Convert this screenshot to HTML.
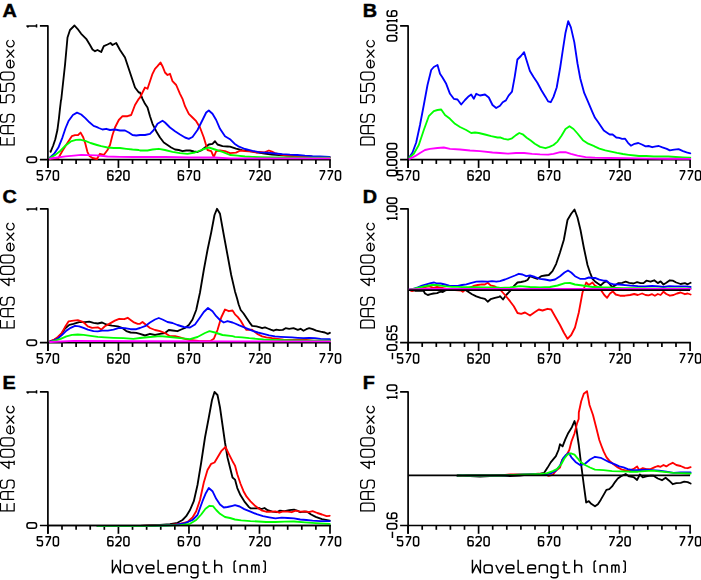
<!DOCTYPE html>
<html><head><meta charset="utf-8"><style>
html,body{margin:0;padding:0;background:#fff;}
body{width:701px;height:580px;overflow:hidden;}
svg{display:block;}
.tl{font-family:"Liberation Sans", sans-serif;font-size:14.5px;fill:#000;}
.yl{font-family:"Liberation Sans", sans-serif;font-size:19.5px;fill:#000;}
.ys{font-family:"Liberation Sans", sans-serif;font-size:16.5px;fill:#000;}
.lt{font-family:"Liberation Sans", sans-serif;font-size:18px;font-weight:bold;fill:#000;stroke:#000;stroke-width:0.45px;}
.wl{font-family:"Liberation Sans", sans-serif;font-size:17.6px;fill:#000;}
</style></head><body>
<svg width="701" height="580" viewBox="0 0 701 580">
<polyline points="39.9,25.9 47.9,25.9 47.9,167.85" fill="none" stroke="#000" stroke-width="1.7" stroke-linejoin="round"/>
<line x1="39.9" y1="159.65" x2="330.8" y2="159.65" stroke="#000" stroke-width="1.7"/>
<line x1="47.90" y1="159.65" x2="47.90" y2="167.95000000000002" stroke="#000" stroke-width="1.7"/>
<line x1="62.00" y1="159.65" x2="62.00" y2="163.95000000000002" stroke="#000" stroke-width="1.7"/>
<line x1="76.11" y1="159.65" x2="76.11" y2="163.95000000000002" stroke="#000" stroke-width="1.7"/>
<line x1="90.22" y1="159.65" x2="90.22" y2="163.95000000000002" stroke="#000" stroke-width="1.7"/>
<line x1="104.32" y1="159.65" x2="104.32" y2="163.95000000000002" stroke="#000" stroke-width="1.7"/>
<line x1="118.43" y1="159.65" x2="118.43" y2="167.95000000000002" stroke="#000" stroke-width="1.7"/>
<line x1="132.53" y1="159.65" x2="132.53" y2="163.95000000000002" stroke="#000" stroke-width="1.7"/>
<line x1="146.64" y1="159.65" x2="146.64" y2="163.95000000000002" stroke="#000" stroke-width="1.7"/>
<line x1="160.74" y1="159.65" x2="160.74" y2="163.95000000000002" stroke="#000" stroke-width="1.7"/>
<line x1="174.84" y1="159.65" x2="174.84" y2="163.95000000000002" stroke="#000" stroke-width="1.7"/>
<line x1="188.95" y1="159.65" x2="188.95" y2="167.95000000000002" stroke="#000" stroke-width="1.7"/>
<line x1="203.06" y1="159.65" x2="203.06" y2="163.95000000000002" stroke="#000" stroke-width="1.7"/>
<line x1="217.16" y1="159.65" x2="217.16" y2="163.95000000000002" stroke="#000" stroke-width="1.7"/>
<line x1="231.27" y1="159.65" x2="231.27" y2="163.95000000000002" stroke="#000" stroke-width="1.7"/>
<line x1="245.37" y1="159.65" x2="245.37" y2="163.95000000000002" stroke="#000" stroke-width="1.7"/>
<line x1="259.47" y1="159.65" x2="259.47" y2="167.95000000000002" stroke="#000" stroke-width="1.7"/>
<line x1="273.58" y1="159.65" x2="273.58" y2="163.95000000000002" stroke="#000" stroke-width="1.7"/>
<line x1="287.69" y1="159.65" x2="287.69" y2="163.95000000000002" stroke="#000" stroke-width="1.7"/>
<line x1="301.79" y1="159.65" x2="301.79" y2="163.95000000000002" stroke="#000" stroke-width="1.7"/>
<line x1="315.89" y1="159.65" x2="315.89" y2="163.95000000000002" stroke="#000" stroke-width="1.7"/>
<line x1="330.00" y1="159.65" x2="330.00" y2="167.95000000000002" stroke="#000" stroke-width="1.7"/>
<g transform="translate(47.90,180.75)" fill="none" stroke="#000" stroke-width="1.5" stroke-linecap="butt" stroke-linejoin="round"><g transform="translate(-11.30,-9.95) scale(1.0000,1)"><path transform="translate(0.75,0)" d="M5.10,0 H0 V3.86 H3.30 Q5.10,3.86 5.10,5.66 V7.40 Q5.10,9.20 3.30,9.20 H1.80 Q0,9.20 0,7.58"/><path transform="translate(8.75,0)" d="M0,0 H5.10 V0.92 L1.12,9.20"/><path transform="translate(16.75,0)" d="M0,2.07 Q0,0 2.07,0 H3.03 Q5.10,0 5.10,2.07 V7.13 Q5.10,9.20 3.03,9.20 H2.07 Q0,9.20 0,7.13 Z"/></g></g>
<g transform="translate(118.43,180.75)" fill="none" stroke="#000" stroke-width="1.5" stroke-linecap="butt" stroke-linejoin="round"><g transform="translate(-11.30,-9.95) scale(1.0000,1)"><path transform="translate(0.75,0)" d="M5.10,1.62 Q5.10,0 3.30,0 H1.80 Q0,0 0,1.80 V7.40 Q0,9.20 1.80,9.20 H3.30 Q5.10,9.20 5.10,7.40 V5.94 Q5.10,4.14 3.30,4.14 H0"/><path transform="translate(8.75,0)" d="M0,1.62 Q0,0 1.80,0 H3.30 Q5.10,0 5.10,1.80 V3.86 L0,9.20 H5.10"/><path transform="translate(16.75,0)" d="M0,2.07 Q0,0 2.07,0 H3.03 Q5.10,0 5.10,2.07 V7.13 Q5.10,9.20 3.03,9.20 H2.07 Q0,9.20 0,7.13 Z"/></g></g>
<g transform="translate(188.95,180.75)" fill="none" stroke="#000" stroke-width="1.5" stroke-linecap="butt" stroke-linejoin="round"><g transform="translate(-11.30,-9.95) scale(1.0000,1)"><path transform="translate(0.75,0)" d="M5.10,1.62 Q5.10,0 3.30,0 H1.80 Q0,0 0,1.80 V7.40 Q0,9.20 1.80,9.20 H3.30 Q5.10,9.20 5.10,7.40 V5.94 Q5.10,4.14 3.30,4.14 H0"/><path transform="translate(8.75,0)" d="M0,0 H5.10 V0.92 L1.12,9.20"/><path transform="translate(16.75,0)" d="M0,2.07 Q0,0 2.07,0 H3.03 Q5.10,0 5.10,2.07 V7.13 Q5.10,9.20 3.03,9.20 H2.07 Q0,9.20 0,7.13 Z"/></g></g>
<g transform="translate(259.48,180.75)" fill="none" stroke="#000" stroke-width="1.5" stroke-linecap="butt" stroke-linejoin="round"><g transform="translate(-11.30,-9.95) scale(1.0000,1)"><path transform="translate(0.75,0)" d="M0,0 H5.10 V0.92 L1.12,9.20"/><path transform="translate(8.75,0)" d="M0,1.62 Q0,0 1.80,0 H3.30 Q5.10,0 5.10,1.80 V3.86 L0,9.20 H5.10"/><path transform="translate(16.75,0)" d="M0,2.07 Q0,0 2.07,0 H3.03 Q5.10,0 5.10,2.07 V7.13 Q5.10,9.20 3.03,9.20 H2.07 Q0,9.20 0,7.13 Z"/></g></g>
<g transform="translate(330.00,180.75)" fill="none" stroke="#000" stroke-width="1.5" stroke-linecap="butt" stroke-linejoin="round"><g transform="translate(-11.30,-9.95) scale(1.0000,1)"><path transform="translate(0.75,0)" d="M0,0 H5.10 V0.92 L1.12,9.20"/><path transform="translate(8.75,0)" d="M0,0 H5.10 V0.92 L1.12,9.20"/><path transform="translate(16.75,0)" d="M0,2.07 Q0,0 2.07,0 H3.03 Q5.10,0 5.10,2.07 V7.13 Q5.10,9.20 3.03,9.20 H2.07 Q0,9.20 0,7.13 Z"/></g></g>
<g transform="translate(37.30,25.90) rotate(-90)" fill="none" stroke="#000" stroke-width="1.5" stroke-linecap="butt" stroke-linejoin="round"><g transform="translate(-2.40,-10.35) scale(1.0000,1)"><path transform="translate(0.75,0)" d="M0.17,1.54 L1.65,0 V9.60 M0,9.60 H3.30"/></g></g>
<g transform="translate(37.30,159.65) rotate(-90)" fill="none" stroke="#000" stroke-width="1.5" stroke-linecap="butt" stroke-linejoin="round"><g transform="translate(-3.50,-10.35) scale(1.0000,1)"><path transform="translate(0.75,0)" d="M0,2.30 Q0,0 2.30,0 H3.20 Q5.50,0 5.50,2.30 V7.30 Q5.50,9.60 3.20,9.60 H2.30 Q0,9.60 0,7.30 Z"/></g></g>
<g transform="translate(14.80,145.57) rotate(-90)" fill="none" stroke="#000" stroke-width="1.25" stroke-linecap="butt" stroke-linejoin="round"><g transform="translate(0.00,-14.38) scale(1.0000,1)"><path transform="translate(0.62,0)" d="M7.85,0 H0 V13.75 H7.85 M0,6.60 H7.06"/><path transform="translate(12.02,0)" d="M0,13.75 V2.60 Q0,0 2.60,0 H5.25 Q7.85,0 7.85,2.60 V13.75 M0,7.56 H7.85"/><path transform="translate(23.43,0)" d="M7.85,2.34 Q7.85,0 5.25,0 H2.60 Q0,0 0,2.60 V4.00 Q0,6.60 2.60,6.60 H5.25 Q7.85,6.60 7.85,9.20 V11.15 Q7.85,13.75 5.25,13.75 H2.60 Q0,13.75 0,11.41"/><path transform="translate(42.92,0)" d="M7.85,0 H0 V5.77 H5.25 Q7.85,5.77 7.85,8.38 V11.15 Q7.85,13.75 5.25,13.75 H2.60 Q0,13.75 0,11.41"/><path transform="translate(54.32,0)" d="M7.85,0 H0 V5.77 H5.25 Q7.85,5.77 7.85,8.38 V11.15 Q7.85,13.75 5.25,13.75 H2.60 Q0,13.75 0,11.41"/><path transform="translate(65.72,0)" d="M0,2.99 Q0,0 2.99,0 H4.86 Q7.85,0 7.85,2.99 V10.76 Q7.85,13.75 4.86,13.75 H2.99 Q0,13.75 0,10.76 Z"/></g></g>
<g transform="translate(14.80,68.48) rotate(-90)" fill="none" stroke="#000" stroke-width="1.25" stroke-linecap="butt" stroke-linejoin="round"><g transform="translate(0.00,-8.18) scale(1.0000,1)"><path transform="translate(0.62,0)" d="M0,3.77 H7.80 A3.90,3.77 0 0 0 3.90,0 A3.90,3.77 0 0 0 0,3.77 A3.90,3.77 0 0 0 3.90,7.55 A3.90,3.77 0 0 0 7.41,5.44"/><path transform="translate(10.88,0)" d="M0,0 L7.80,7.55 M7.80,0 L0,7.55"/><path transform="translate(21.12,0)" d="M7.18,1.96 A3.59,3.77 0 1 0 7.18,5.59"/></g></g>
<text transform="translate(2.6000000000000014,16.7) scale(1.1,1)" class="lt">A</text>
<polyline points="50.5,151.2 50.6,151.8 53.2,145.5 55.3,139.3 57.4,130.0 58.9,118.6 59.9,109.3 61.0,100.0 61.2,100.0 65.0,65.0 67.5,37.5 70.0,30.0 74.5,25.5 77.5,28.8 81.2,33.8 86.2,38.8 90.0,45.0 92.5,49.5 95.0,51.2 97.5,50.0 101.2,52.0 103.8,46.2 107.5,44.5 110.5,43.0 112.5,45.0 116.2,43.0 120.0,50.0 125.0,57.5 130.0,72.5 135.0,87.5 138.8,92.5 140.0,92.5 142.5,98.8 145.0,103.8 147.5,107.5 150.0,116.2 152.5,123.8 156.2,131.2 160.0,137.5 163.8,142.5 167.5,145.0 171.2,147.5 175.0,149.5 178.8,150.0 182.5,151.2 186.2,150.5 190.0,150.5 193.8,151.5 197.5,152.0 201.2,150.5 205.0,147.5 208.8,144.5 212.5,143.8 215.0,141.2 217.5,144.5 222.5,146.2 227.5,146.5 230.0,146.7 236.0,148.7 242.0,150.2 249.5,151.2 257.0,152.3 264.5,153.5 271.9,154.7 279.4,155.0 286.9,155.7 294.4,156.0 301.9,156.5 312.4,156.8 329.6,157.2" fill="none" stroke="#000000" stroke-width="1.85" stroke-linejoin="round" stroke-linecap="round"/>
<polyline points="50.0,158.8 50.6,158.5 58.4,158.0 62.5,150.7 67.7,142.4 71.8,136.2 75.0,135.2 78.1,135.0 80.6,132.6 83.2,137.3 85.3,143.5 87.4,151.8 89.4,155.9 92.5,158.0 97.0,159.0 97.5,158.0 100.0,153.8 103.8,155.0 107.5,150.0 110.0,145.0 112.5,135.0 115.0,127.5 118.8,120.0 122.5,116.2 127.5,116.2 131.2,115.0 135.0,105.0 138.8,98.8 140.0,97.5 142.5,92.5 145.0,87.5 147.5,88.8 150.0,81.2 152.5,73.8 155.0,68.8 157.5,66.2 160.5,62.5 162.5,66.2 165.0,72.5 167.5,75.0 170.0,73.8 172.5,81.2 176.2,85.0 180.0,93.8 182.5,98.8 185.0,106.2 188.8,113.8 192.5,117.5 196.2,121.2 200.0,127.5 203.8,137.5 207.5,150.0 211.2,151.2 213.8,157.0 216.2,151.2 220.0,150.5 225.0,151.2 230.0,153.2 236.0,152.7 240.5,150.5 245.0,151.2 252.5,151.7 257.0,152.7 260.0,152.0 264.5,152.3 268.9,150.5 271.9,151.7 274.9,153.2 280.9,154.7 286.9,155.7 294.4,156.2 301.9,156.8 309.4,156.5 315.4,157.2 329.6,157.2" fill="none" stroke="#ff0000" stroke-width="1.85" stroke-linejoin="round" stroke-linecap="round"/>
<polyline points="50.0,157.5 50.6,156.9 54.2,153.8 58.4,147.6 62.5,137.3 65.6,128.0 68.7,120.7 72.9,115.0 77.0,112.6 81.2,114.5 85.3,118.1 89.4,122.3 93.6,125.9 97.0,127.1 98.8,128.0 102.5,129.5 106.2,128.8 110.0,130.0 115.0,129.5 120.0,130.5 125.0,130.5 128.8,132.5 132.5,135.0 136.2,135.5 140.0,135.0 145.0,135.0 150.0,133.8 153.8,130.0 157.5,123.8 162.5,120.8 165.0,122.5 170.0,127.5 175.0,131.2 180.0,134.5 185.0,137.5 188.8,138.8 192.5,137.0 197.5,130.0 202.5,120.0 206.2,112.5 208.8,110.5 212.5,113.8 216.2,120.0 220.0,128.8 225.0,136.2 230.0,139.2 234.5,143.7 239.0,146.7 245.0,149.0 252.5,150.8 260.0,152.3 267.4,152.7 274.9,153.5 282.4,154.2 289.9,154.7 297.4,155.0 304.9,155.7 312.4,156.2 319.9,156.5 329.6,156.8" fill="none" stroke="#0000ff" stroke-width="1.85" stroke-linejoin="round" stroke-linecap="round"/>
<polyline points="50.0,158.0 50.6,157.5 55.3,154.9 60.5,150.7 65.6,145.5 70.8,141.4 76.0,139.9 80.1,139.6 85.3,140.9 90.5,143.0 97.0,145.0 101.2,146.2 107.5,147.5 113.8,148.0 120.0,148.0 126.2,148.8 132.5,149.5 138.8,150.0 140.0,150.5 147.5,150.5 152.5,149.5 158.8,148.8 165.0,150.0 172.5,151.8 180.0,153.2 187.5,153.8 195.0,152.5 202.5,149.5 208.8,147.5 215.0,149.5 222.5,151.8 230.0,155.0 237.5,155.7 245.0,156.5 252.5,156.9 260.0,157.2 274.9,157.5 289.9,157.5 304.9,157.7 329.6,157.7" fill="none" stroke="#00ff00" stroke-width="1.85" stroke-linejoin="round" stroke-linecap="round"/>
<polyline points="50.0,158.8 50.6,158.5 57.4,157.5 65.6,156.4 73.9,155.6 81.2,154.9 88.4,155.1 97.0,155.4 107.5,156.5 120.0,156.8 132.5,157.0 140.0,157.0 152.5,156.8 165.0,157.0 190.0,157.5 215.0,157.5 230.0,158.3 329.6,158.3" fill="none" stroke="#ff00ff" stroke-width="1.85" stroke-linejoin="round" stroke-linecap="round"/>
<polyline points="400.1,25.9 408.1,25.9 408.1,167.85" fill="none" stroke="#000" stroke-width="1.7" stroke-linejoin="round"/>
<line x1="400.1" y1="159.65" x2="690.9" y2="159.65" stroke="#000" stroke-width="1.7"/>
<line x1="408.10" y1="159.65" x2="408.10" y2="167.95000000000002" stroke="#000" stroke-width="1.7"/>
<line x1="422.20" y1="159.65" x2="422.20" y2="163.95000000000002" stroke="#000" stroke-width="1.7"/>
<line x1="436.30" y1="159.65" x2="436.30" y2="163.95000000000002" stroke="#000" stroke-width="1.7"/>
<line x1="450.40" y1="159.65" x2="450.40" y2="163.95000000000002" stroke="#000" stroke-width="1.7"/>
<line x1="464.50" y1="159.65" x2="464.50" y2="163.95000000000002" stroke="#000" stroke-width="1.7"/>
<line x1="478.60" y1="159.65" x2="478.60" y2="167.95000000000002" stroke="#000" stroke-width="1.7"/>
<line x1="492.70" y1="159.65" x2="492.70" y2="163.95000000000002" stroke="#000" stroke-width="1.7"/>
<line x1="506.80" y1="159.65" x2="506.80" y2="163.95000000000002" stroke="#000" stroke-width="1.7"/>
<line x1="520.90" y1="159.65" x2="520.90" y2="163.95000000000002" stroke="#000" stroke-width="1.7"/>
<line x1="535.00" y1="159.65" x2="535.00" y2="163.95000000000002" stroke="#000" stroke-width="1.7"/>
<line x1="549.10" y1="159.65" x2="549.10" y2="167.95000000000002" stroke="#000" stroke-width="1.7"/>
<line x1="563.20" y1="159.65" x2="563.20" y2="163.95000000000002" stroke="#000" stroke-width="1.7"/>
<line x1="577.30" y1="159.65" x2="577.30" y2="163.95000000000002" stroke="#000" stroke-width="1.7"/>
<line x1="591.40" y1="159.65" x2="591.40" y2="163.95000000000002" stroke="#000" stroke-width="1.7"/>
<line x1="605.50" y1="159.65" x2="605.50" y2="163.95000000000002" stroke="#000" stroke-width="1.7"/>
<line x1="619.60" y1="159.65" x2="619.60" y2="167.95000000000002" stroke="#000" stroke-width="1.7"/>
<line x1="633.70" y1="159.65" x2="633.70" y2="163.95000000000002" stroke="#000" stroke-width="1.7"/>
<line x1="647.80" y1="159.65" x2="647.80" y2="163.95000000000002" stroke="#000" stroke-width="1.7"/>
<line x1="661.90" y1="159.65" x2="661.90" y2="163.95000000000002" stroke="#000" stroke-width="1.7"/>
<line x1="676.00" y1="159.65" x2="676.00" y2="163.95000000000002" stroke="#000" stroke-width="1.7"/>
<line x1="690.10" y1="159.65" x2="690.10" y2="167.95000000000002" stroke="#000" stroke-width="1.7"/>
<g transform="translate(408.10,180.75)" fill="none" stroke="#000" stroke-width="1.5" stroke-linecap="butt" stroke-linejoin="round"><g transform="translate(-11.30,-9.95) scale(1.0000,1)"><path transform="translate(0.75,0)" d="M5.10,0 H0 V3.86 H3.30 Q5.10,3.86 5.10,5.66 V7.40 Q5.10,9.20 3.30,9.20 H1.80 Q0,9.20 0,7.58"/><path transform="translate(8.75,0)" d="M0,0 H5.10 V0.92 L1.12,9.20"/><path transform="translate(16.75,0)" d="M0,2.07 Q0,0 2.07,0 H3.03 Q5.10,0 5.10,2.07 V7.13 Q5.10,9.20 3.03,9.20 H2.07 Q0,9.20 0,7.13 Z"/></g></g>
<g transform="translate(478.60,180.75)" fill="none" stroke="#000" stroke-width="1.5" stroke-linecap="butt" stroke-linejoin="round"><g transform="translate(-11.30,-9.95) scale(1.0000,1)"><path transform="translate(0.75,0)" d="M5.10,1.62 Q5.10,0 3.30,0 H1.80 Q0,0 0,1.80 V7.40 Q0,9.20 1.80,9.20 H3.30 Q5.10,9.20 5.10,7.40 V5.94 Q5.10,4.14 3.30,4.14 H0"/><path transform="translate(8.75,0)" d="M0,1.62 Q0,0 1.80,0 H3.30 Q5.10,0 5.10,1.80 V3.86 L0,9.20 H5.10"/><path transform="translate(16.75,0)" d="M0,2.07 Q0,0 2.07,0 H3.03 Q5.10,0 5.10,2.07 V7.13 Q5.10,9.20 3.03,9.20 H2.07 Q0,9.20 0,7.13 Z"/></g></g>
<g transform="translate(549.10,180.75)" fill="none" stroke="#000" stroke-width="1.5" stroke-linecap="butt" stroke-linejoin="round"><g transform="translate(-11.30,-9.95) scale(1.0000,1)"><path transform="translate(0.75,0)" d="M5.10,1.62 Q5.10,0 3.30,0 H1.80 Q0,0 0,1.80 V7.40 Q0,9.20 1.80,9.20 H3.30 Q5.10,9.20 5.10,7.40 V5.94 Q5.10,4.14 3.30,4.14 H0"/><path transform="translate(8.75,0)" d="M0,0 H5.10 V0.92 L1.12,9.20"/><path transform="translate(16.75,0)" d="M0,2.07 Q0,0 2.07,0 H3.03 Q5.10,0 5.10,2.07 V7.13 Q5.10,9.20 3.03,9.20 H2.07 Q0,9.20 0,7.13 Z"/></g></g>
<g transform="translate(619.60,180.75)" fill="none" stroke="#000" stroke-width="1.5" stroke-linecap="butt" stroke-linejoin="round"><g transform="translate(-11.30,-9.95) scale(1.0000,1)"><path transform="translate(0.75,0)" d="M0,0 H5.10 V0.92 L1.12,9.20"/><path transform="translate(8.75,0)" d="M0,1.62 Q0,0 1.80,0 H3.30 Q5.10,0 5.10,1.80 V3.86 L0,9.20 H5.10"/><path transform="translate(16.75,0)" d="M0,2.07 Q0,0 2.07,0 H3.03 Q5.10,0 5.10,2.07 V7.13 Q5.10,9.20 3.03,9.20 H2.07 Q0,9.20 0,7.13 Z"/></g></g>
<g transform="translate(690.10,180.75)" fill="none" stroke="#000" stroke-width="1.5" stroke-linecap="butt" stroke-linejoin="round"><g transform="translate(-11.30,-9.95) scale(1.0000,1)"><path transform="translate(0.75,0)" d="M0,0 H5.10 V0.92 L1.12,9.20"/><path transform="translate(8.75,0)" d="M0,0 H5.10 V0.92 L1.12,9.20"/><path transform="translate(16.75,0)" d="M0,2.07 Q0,0 2.07,0 H3.03 Q5.10,0 5.10,2.07 V7.13 Q5.10,9.20 3.03,9.20 H2.07 Q0,9.20 0,7.13 Z"/></g></g>
<g transform="translate(397.50,25.90) rotate(-90)" fill="none" stroke="#000" stroke-width="1.5" stroke-linecap="butt" stroke-linejoin="round"><g transform="translate(-15.85,-10.35) scale(1.0000,1)"><path transform="translate(0.75,0)" d="M0,2.30 Q0,0 2.30,0 H3.20 Q5.50,0 5.50,2.30 V7.30 Q5.50,9.60 3.20,9.60 H2.30 Q0,9.60 0,7.30 Z"/><rect x="7.70" y="8.25" width="2.10" height="2.10" fill="#000" stroke="none"/><path transform="translate(11.25,0)" d="M0,2.30 Q0,0 2.30,0 H3.20 Q5.50,0 5.50,2.30 V7.30 Q5.50,9.60 3.20,9.60 H2.30 Q0,9.60 0,7.30 Z"/><path transform="translate(19.45,0)" d="M0.17,1.54 L1.65,0 V9.60 M0,9.60 H3.30"/><path transform="translate(25.45,0)" d="M5.50,1.80 Q5.50,0 3.50,0 H2.00 Q0,0 0,2.00 V7.60 Q0,9.60 2.00,9.60 H3.50 Q5.50,9.60 5.50,7.60 V6.32 Q5.50,4.32 3.50,4.32 H0"/></g></g>
<g transform="translate(397.50,159.65) rotate(-90)" fill="none" stroke="#000" stroke-width="1.5" stroke-linecap="butt" stroke-linejoin="round"><g transform="translate(-16.95,-10.35) scale(1.0000,1)"><path transform="translate(0.75,0)" d="M0,2.30 Q0,0 2.30,0 H3.20 Q5.50,0 5.50,2.30 V7.30 Q5.50,9.60 3.20,9.60 H2.30 Q0,9.60 0,7.30 Z"/><rect x="7.70" y="8.25" width="2.10" height="2.10" fill="#000" stroke="none"/><path transform="translate(11.25,0)" d="M0,2.30 Q0,0 2.30,0 H3.20 Q5.50,0 5.50,2.30 V7.30 Q5.50,9.60 3.20,9.60 H2.30 Q0,9.60 0,7.30 Z"/><path transform="translate(19.45,0)" d="M0,2.30 Q0,0 2.30,0 H3.20 Q5.50,0 5.50,2.30 V7.30 Q5.50,9.60 3.20,9.60 H2.30 Q0,9.60 0,7.30 Z"/><path transform="translate(27.65,0)" d="M0,2.30 Q0,0 2.30,0 H3.20 Q5.50,0 5.50,2.30 V7.30 Q5.50,9.60 3.20,9.60 H2.30 Q0,9.60 0,7.30 Z"/></g></g>
<g transform="translate(375.00,145.57) rotate(-90)" fill="none" stroke="#000" stroke-width="1.25" stroke-linecap="butt" stroke-linejoin="round"><g transform="translate(0.00,-14.38) scale(1.0000,1)"><path transform="translate(0.62,0)" d="M0,0 H5.25 Q7.85,0 7.85,2.60 V11.15 Q7.85,13.75 5.25,13.75 H0 Z"/><path transform="translate(12.02,0)" d="M0,13.75 V2.60 Q0,0 2.60,0 H5.25 Q7.85,0 7.85,2.60 V13.75 M0,7.56 H7.85"/><path transform="translate(23.43,0)" d="M7.85,2.34 Q7.85,0 5.25,0 H2.60 Q0,0 0,2.60 V4.00 Q0,6.60 2.60,6.60 H5.25 Q7.85,6.60 7.85,9.20 V11.15 Q7.85,13.75 5.25,13.75 H2.60 Q0,13.75 0,11.41"/><path transform="translate(42.92,0)" d="M7.85,0 H0 V5.77 H5.25 Q7.85,5.77 7.85,8.38 V11.15 Q7.85,13.75 5.25,13.75 H2.60 Q0,13.75 0,11.41"/><path transform="translate(54.32,0)" d="M7.85,0 H0 V5.77 H5.25 Q7.85,5.77 7.85,8.38 V11.15 Q7.85,13.75 5.25,13.75 H2.60 Q0,13.75 0,11.41"/><path transform="translate(65.72,0)" d="M0,2.99 Q0,0 2.99,0 H4.86 Q7.85,0 7.85,2.99 V10.76 Q7.85,13.75 4.86,13.75 H2.99 Q0,13.75 0,10.76 Z"/></g></g>
<g transform="translate(375.00,68.48) rotate(-90)" fill="none" stroke="#000" stroke-width="1.25" stroke-linecap="butt" stroke-linejoin="round"><g transform="translate(0.00,-8.18) scale(1.0000,1)"><path transform="translate(0.62,0)" d="M0,3.77 H7.80 A3.90,3.77 0 0 0 3.90,0 A3.90,3.77 0 0 0 0,3.77 A3.90,3.77 0 0 0 3.90,7.55 A3.90,3.77 0 0 0 7.41,5.44"/><path transform="translate(10.88,0)" d="M0,0 L7.80,7.55 M7.80,0 L0,7.55"/><path transform="translate(21.12,0)" d="M7.18,1.96 A3.59,3.77 0 1 0 7.18,5.59"/></g></g>
<text transform="translate(362.8,16.7) scale(1.1,1)" class="lt">B</text>
<polyline points="409.5,157.0 412.5,152.5 416.2,142.5 420.0,125.0 423.8,105.0 427.5,85.0 431.2,70.0 433.8,67.0 437.5,65.0 440.0,73.8 442.5,77.5 446.2,83.8 450.0,93.8 453.8,98.8 457.5,99.5 461.2,104.5 465.0,100.0 468.8,96.2 471.2,94.5 473.8,98.8 476.2,93.8 480.0,95.5 485.0,94.5 488.8,97.5 492.5,105.0 496.2,108.0 500.0,105.7 502.7,102.2 505.9,100.4 508.6,95.6 512.0,91.6 514.7,76.8 517.4,59.5 520.9,56.0 524.1,52.2 526.7,60.8 529.9,71.0 533.4,76.8 537.4,82.7 541.4,90.2 545.5,96.9 548.1,101.4 550.8,102.2 553.5,96.9 556.7,87.5 560.2,67.5 562.8,50.1 565.5,32.7 568.2,21.2 570.9,27.4 574.3,42.1 577.5,63.5 580.2,78.2 584.2,92.9 588.2,102.2 592.2,111.6 595.0,117.8 597.9,121.8 600.9,126.2 603.8,130.6 606.7,132.5 609.7,134.5 612.6,134.5 616.3,137.5 619.2,137.9 622.1,138.9 625.1,138.7 628.0,142.8 630.9,145.7 634.6,143.8 638.3,143.0 641.9,144.5 645.6,146.3 648.5,146.0 652.2,147.2 655.9,146.3 658.8,146.0 662.4,147.4 666.8,148.9 669.8,150.4 674.2,149.6 678.6,149.2 683.0,151.1 686.6,152.3 690.3,153.3" fill="none" stroke="#0000ff" stroke-width="1.85" stroke-linejoin="round" stroke-linecap="round"/>
<polyline points="409.5,157.5 413.8,153.8 418.8,145.0 423.8,130.0 428.8,116.2 433.8,111.2 437.5,110.0 441.2,109.5 445.0,115.0 450.0,118.8 455.0,123.8 460.0,127.0 466.2,130.0 471.2,133.0 475.0,132.5 478.8,133.0 485.0,134.5 491.2,136.2 497.5,137.5 500.0,137.3 504.0,138.9 508.0,139.7 512.0,138.3 516.0,135.1 519.3,133.0 522.7,134.3 526.7,137.8 530.7,140.5 534.8,143.7 540.1,146.9 545.5,148.2 549.5,146.9 553.5,145.0 557.5,141.6 561.5,135.7 565.5,129.0 569.5,126.3 573.5,129.0 577.5,133.5 582.9,140.2 588.2,143.7 593.6,145.8 595.0,146.7 599.4,148.6 605.3,150.4 611.1,151.6 617.0,152.9 622.9,154.0 628.7,154.8 634.6,155.5 639.0,156.0 646.3,156.0 653.7,156.5 661.0,156.5 668.3,156.5 675.6,157.0 683.0,157.4 690.3,157.7" fill="none" stroke="#00ff00" stroke-width="1.85" stroke-linejoin="round" stroke-linecap="round"/>
<polyline points="409.5,158.8 415.0,156.2 420.0,153.0 425.0,150.0 430.0,148.8 437.5,148.0 443.8,147.5 450.0,148.8 460.0,149.5 470.0,150.5 480.0,151.2 492.5,152.5 500.0,153.0 508.0,153.6 516.0,153.0 524.1,153.0 532.1,153.9 540.1,154.4 548.1,154.7 553.5,153.9 560.2,152.2 565.5,152.2 570.9,153.9 577.5,155.7 585.6,157.1 593.6,157.6 595.0,157.7 602.3,157.9 609.7,158.0 624.3,158.2 639.0,158.4 653.7,158.7 668.3,158.7 690.3,158.9" fill="none" stroke="#ff00ff" stroke-width="1.85" stroke-linejoin="round" stroke-linecap="round"/>
<polyline points="39.9,208.9 47.9,208.9 47.9,350.84999999999997" fill="none" stroke="#000" stroke-width="1.7" stroke-linejoin="round"/>
<line x1="39.9" y1="342.65" x2="330.8" y2="342.65" stroke="#000" stroke-width="1.7"/>
<line x1="47.90" y1="342.65" x2="47.90" y2="350.95" stroke="#000" stroke-width="1.7"/>
<line x1="62.00" y1="342.65" x2="62.00" y2="346.95" stroke="#000" stroke-width="1.7"/>
<line x1="76.11" y1="342.65" x2="76.11" y2="346.95" stroke="#000" stroke-width="1.7"/>
<line x1="90.22" y1="342.65" x2="90.22" y2="346.95" stroke="#000" stroke-width="1.7"/>
<line x1="104.32" y1="342.65" x2="104.32" y2="346.95" stroke="#000" stroke-width="1.7"/>
<line x1="118.43" y1="342.65" x2="118.43" y2="350.95" stroke="#000" stroke-width="1.7"/>
<line x1="132.53" y1="342.65" x2="132.53" y2="346.95" stroke="#000" stroke-width="1.7"/>
<line x1="146.64" y1="342.65" x2="146.64" y2="346.95" stroke="#000" stroke-width="1.7"/>
<line x1="160.74" y1="342.65" x2="160.74" y2="346.95" stroke="#000" stroke-width="1.7"/>
<line x1="174.84" y1="342.65" x2="174.84" y2="346.95" stroke="#000" stroke-width="1.7"/>
<line x1="188.95" y1="342.65" x2="188.95" y2="350.95" stroke="#000" stroke-width="1.7"/>
<line x1="203.06" y1="342.65" x2="203.06" y2="346.95" stroke="#000" stroke-width="1.7"/>
<line x1="217.16" y1="342.65" x2="217.16" y2="346.95" stroke="#000" stroke-width="1.7"/>
<line x1="231.27" y1="342.65" x2="231.27" y2="346.95" stroke="#000" stroke-width="1.7"/>
<line x1="245.37" y1="342.65" x2="245.37" y2="346.95" stroke="#000" stroke-width="1.7"/>
<line x1="259.47" y1="342.65" x2="259.47" y2="350.95" stroke="#000" stroke-width="1.7"/>
<line x1="273.58" y1="342.65" x2="273.58" y2="346.95" stroke="#000" stroke-width="1.7"/>
<line x1="287.69" y1="342.65" x2="287.69" y2="346.95" stroke="#000" stroke-width="1.7"/>
<line x1="301.79" y1="342.65" x2="301.79" y2="346.95" stroke="#000" stroke-width="1.7"/>
<line x1="315.89" y1="342.65" x2="315.89" y2="346.95" stroke="#000" stroke-width="1.7"/>
<line x1="330.00" y1="342.65" x2="330.00" y2="350.95" stroke="#000" stroke-width="1.7"/>
<g transform="translate(47.90,363.75)" fill="none" stroke="#000" stroke-width="1.5" stroke-linecap="butt" stroke-linejoin="round"><g transform="translate(-11.30,-9.95) scale(1.0000,1)"><path transform="translate(0.75,0)" d="M5.10,0 H0 V3.86 H3.30 Q5.10,3.86 5.10,5.66 V7.40 Q5.10,9.20 3.30,9.20 H1.80 Q0,9.20 0,7.58"/><path transform="translate(8.75,0)" d="M0,0 H5.10 V0.92 L1.12,9.20"/><path transform="translate(16.75,0)" d="M0,2.07 Q0,0 2.07,0 H3.03 Q5.10,0 5.10,2.07 V7.13 Q5.10,9.20 3.03,9.20 H2.07 Q0,9.20 0,7.13 Z"/></g></g>
<g transform="translate(118.43,363.75)" fill="none" stroke="#000" stroke-width="1.5" stroke-linecap="butt" stroke-linejoin="round"><g transform="translate(-11.30,-9.95) scale(1.0000,1)"><path transform="translate(0.75,0)" d="M5.10,1.62 Q5.10,0 3.30,0 H1.80 Q0,0 0,1.80 V7.40 Q0,9.20 1.80,9.20 H3.30 Q5.10,9.20 5.10,7.40 V5.94 Q5.10,4.14 3.30,4.14 H0"/><path transform="translate(8.75,0)" d="M0,1.62 Q0,0 1.80,0 H3.30 Q5.10,0 5.10,1.80 V3.86 L0,9.20 H5.10"/><path transform="translate(16.75,0)" d="M0,2.07 Q0,0 2.07,0 H3.03 Q5.10,0 5.10,2.07 V7.13 Q5.10,9.20 3.03,9.20 H2.07 Q0,9.20 0,7.13 Z"/></g></g>
<g transform="translate(188.95,363.75)" fill="none" stroke="#000" stroke-width="1.5" stroke-linecap="butt" stroke-linejoin="round"><g transform="translate(-11.30,-9.95) scale(1.0000,1)"><path transform="translate(0.75,0)" d="M5.10,1.62 Q5.10,0 3.30,0 H1.80 Q0,0 0,1.80 V7.40 Q0,9.20 1.80,9.20 H3.30 Q5.10,9.20 5.10,7.40 V5.94 Q5.10,4.14 3.30,4.14 H0"/><path transform="translate(8.75,0)" d="M0,0 H5.10 V0.92 L1.12,9.20"/><path transform="translate(16.75,0)" d="M0,2.07 Q0,0 2.07,0 H3.03 Q5.10,0 5.10,2.07 V7.13 Q5.10,9.20 3.03,9.20 H2.07 Q0,9.20 0,7.13 Z"/></g></g>
<g transform="translate(259.48,363.75)" fill="none" stroke="#000" stroke-width="1.5" stroke-linecap="butt" stroke-linejoin="round"><g transform="translate(-11.30,-9.95) scale(1.0000,1)"><path transform="translate(0.75,0)" d="M0,0 H5.10 V0.92 L1.12,9.20"/><path transform="translate(8.75,0)" d="M0,1.62 Q0,0 1.80,0 H3.30 Q5.10,0 5.10,1.80 V3.86 L0,9.20 H5.10"/><path transform="translate(16.75,0)" d="M0,2.07 Q0,0 2.07,0 H3.03 Q5.10,0 5.10,2.07 V7.13 Q5.10,9.20 3.03,9.20 H2.07 Q0,9.20 0,7.13 Z"/></g></g>
<g transform="translate(330.00,363.75)" fill="none" stroke="#000" stroke-width="1.5" stroke-linecap="butt" stroke-linejoin="round"><g transform="translate(-11.30,-9.95) scale(1.0000,1)"><path transform="translate(0.75,0)" d="M0,0 H5.10 V0.92 L1.12,9.20"/><path transform="translate(8.75,0)" d="M0,0 H5.10 V0.92 L1.12,9.20"/><path transform="translate(16.75,0)" d="M0,2.07 Q0,0 2.07,0 H3.03 Q5.10,0 5.10,2.07 V7.13 Q5.10,9.20 3.03,9.20 H2.07 Q0,9.20 0,7.13 Z"/></g></g>
<g transform="translate(37.30,208.90) rotate(-90)" fill="none" stroke="#000" stroke-width="1.5" stroke-linecap="butt" stroke-linejoin="round"><g transform="translate(-2.40,-10.35) scale(1.0000,1)"><path transform="translate(0.75,0)" d="M0.17,1.54 L1.65,0 V9.60 M0,9.60 H3.30"/></g></g>
<g transform="translate(37.30,342.65) rotate(-90)" fill="none" stroke="#000" stroke-width="1.5" stroke-linecap="butt" stroke-linejoin="round"><g transform="translate(-3.50,-10.35) scale(1.0000,1)"><path transform="translate(0.75,0)" d="M0,2.30 Q0,0 2.30,0 H3.20 Q5.50,0 5.50,2.30 V7.30 Q5.50,9.60 3.20,9.60 H2.30 Q0,9.60 0,7.30 Z"/></g></g>
<g transform="translate(14.80,328.57) rotate(-90)" fill="none" stroke="#000" stroke-width="1.25" stroke-linecap="butt" stroke-linejoin="round"><g transform="translate(0.00,-14.38) scale(1.0000,1)"><path transform="translate(0.62,0)" d="M7.85,0 H0 V13.75 H7.85 M0,6.60 H7.06"/><path transform="translate(12.02,0)" d="M0,13.75 V2.60 Q0,0 2.60,0 H5.25 Q7.85,0 7.85,2.60 V13.75 M0,7.56 H7.85"/><path transform="translate(23.43,0)" d="M7.85,2.34 Q7.85,0 5.25,0 H2.60 Q0,0 0,2.60 V4.00 Q0,6.60 2.60,6.60 H5.25 Q7.85,6.60 7.85,9.20 V11.15 Q7.85,13.75 5.25,13.75 H2.60 Q0,13.75 0,11.41"/><path transform="translate(42.92,0)" d="M6.28,13.75 V0 L0,8.53 H7.85 M3.53,13.75 H7.85"/><path transform="translate(54.32,0)" d="M0,2.99 Q0,0 2.99,0 H4.86 Q7.85,0 7.85,2.99 V10.76 Q7.85,13.75 4.86,13.75 H2.99 Q0,13.75 0,10.76 Z"/><path transform="translate(65.72,0)" d="M0,2.99 Q0,0 2.99,0 H4.86 Q7.85,0 7.85,2.99 V10.76 Q7.85,13.75 4.86,13.75 H2.99 Q0,13.75 0,10.76 Z"/></g></g>
<g transform="translate(14.80,251.47) rotate(-90)" fill="none" stroke="#000" stroke-width="1.25" stroke-linecap="butt" stroke-linejoin="round"><g transform="translate(0.00,-8.18) scale(1.0000,1)"><path transform="translate(0.62,0)" d="M0,3.77 H7.80 A3.90,3.77 0 0 0 3.90,0 A3.90,3.77 0 0 0 0,3.77 A3.90,3.77 0 0 0 3.90,7.55 A3.90,3.77 0 0 0 7.41,5.44"/><path transform="translate(10.88,0)" d="M0,0 L7.80,7.55 M7.80,0 L0,7.55"/><path transform="translate(21.12,0)" d="M7.18,1.96 A3.59,3.77 0 1 0 7.18,5.59"/></g></g>
<text transform="translate(2.6000000000000014,202.5) scale(1.1,1)" class="lt">C</text>
<polyline points="50.0,341.3 53.6,340.2 57.8,337.8 61.4,333.9 65.0,328.5 69.3,324.9 73.5,323.9 79.2,322.1 84.9,322.1 89.2,321.6 93.5,322.8 97.8,323.5 102.1,322.5 106.3,324.5 112.0,325.6 117.8,326.3 122.0,327.8 126.3,331.1 130.6,332.5 136.3,332.8 140.0,333.8 145.0,335.5 150.0,333.8 155.0,335.0 160.0,333.8 165.0,333.0 168.8,330.0 172.5,330.5 177.5,331.2 181.2,329.5 185.0,328.0 188.8,325.0 192.5,319.5 196.2,310.0 200.0,292.5 203.8,270.0 207.5,250.0 211.2,232.5 214.5,215.0 217.0,208.8 220.0,213.8 223.8,235.0 227.5,255.0 231.2,275.0 235.0,291.4 237.1,298.6 238.6,304.3 240.7,310.0 243.6,313.5 246.4,317.8 249.3,322.1 252.1,325.9 256.4,326.4 260.0,327.4 262.1,328.2 265.0,327.4 267.8,328.5 270.7,329.7 273.5,330.7 276.4,329.7 279.2,330.2 282.8,329.9 285.6,328.2 289.2,328.8 293.5,328.2 297.8,329.9 300.6,328.8 303.5,330.7 306.3,329.2 309.2,328.2 312.7,329.2 316.3,330.7 320.6,331.7 324.9,332.5 327.7,333.9 329.9,332.8" fill="none" stroke="#000000" stroke-width="1.85" stroke-linejoin="round" stroke-linecap="round"/>
<polyline points="50.0,341.3 53.6,339.9 57.8,337.0 61.4,333.5 65.0,327.1 68.5,321.4 73.5,320.6 77.8,320.2 82.1,321.6 84.9,323.5 87.8,326.3 92.1,327.8 97.8,327.3 101.3,329.6 104.9,326.3 109.2,323.9 114.9,320.6 119.2,318.8 124.2,319.2 127.7,317.8 130.6,319.9 133.4,322.1 137.7,323.9 140.0,323.8 142.5,322.0 146.2,325.0 150.0,328.0 155.0,330.0 160.0,331.2 165.0,333.0 170.0,336.2 175.0,336.2 180.0,337.5 185.0,338.8 190.0,340.0 200.0,341.2 210.0,341.2 213.8,338.8 217.5,330.0 221.2,317.5 225.0,309.5 228.8,311.2 232.5,310.5 235.0,314.3 237.9,317.1 240.7,320.7 243.6,325.7 246.4,329.9 249.3,329.7 252.1,329.7 255.0,332.1 257.8,334.2 262.1,336.4 266.4,337.4 272.1,338.2 277.8,338.8 283.5,339.6 292.1,339.9 299.2,339.6 306.3,339.9 313.5,340.6 320.6,340.6 329.9,340.6" fill="none" stroke="#ff0000" stroke-width="1.85" stroke-linejoin="round" stroke-linecap="round"/>
<polyline points="50.0,341.6 53.6,340.6 57.8,338.5 62.1,334.9 66.4,330.6 70.7,327.8 75.0,325.9 79.2,326.3 83.5,327.8 87.8,329.6 93.5,331.1 97.8,331.3 102.1,330.6 107.8,330.6 113.5,329.6 119.2,327.8 124.9,328.2 130.6,329.2 136.3,329.2 140.0,328.0 145.0,326.2 150.0,322.5 155.0,319.5 158.8,318.0 162.5,319.5 167.5,322.0 172.5,323.0 177.5,325.0 183.8,327.0 190.0,327.5 195.0,324.5 200.0,317.5 203.8,312.0 208.0,308.0 212.5,311.2 216.2,316.2 220.0,320.0 223.8,322.5 227.5,321.2 232.5,322.5 235.0,323.5 239.3,325.4 243.6,327.1 247.8,328.8 252.1,330.7 257.8,332.5 263.5,333.9 269.2,335.4 274.9,336.4 280.6,336.8 286.4,337.1 292.1,337.4 297.8,337.8 303.5,338.2 309.2,337.8 314.9,338.2 320.6,338.8 329.9,339.2" fill="none" stroke="#0000ff" stroke-width="1.85" stroke-linejoin="round" stroke-linecap="round"/>
<polyline points="50.0,341.8 55.0,340.6 60.7,338.8 66.4,336.3 72.1,334.9 77.8,334.5 83.5,334.9 90.6,335.9 97.8,336.8 104.9,337.3 113.5,337.8 123.5,338.2 133.4,338.8 140.0,338.0 150.0,337.0 160.0,336.2 170.0,337.0 180.0,338.2 190.0,339.2 197.5,337.0 205.0,333.0 209.5,331.2 215.0,332.5 222.5,335.0 232.5,336.2 235.0,336.8 242.1,337.4 249.3,338.2 256.4,338.8 263.5,339.5 272.1,339.9 282.1,340.2 292.1,340.4 306.3,340.6 329.9,340.6" fill="none" stroke="#00ff00" stroke-width="1.85" stroke-linejoin="round" stroke-linecap="round"/>
<polyline points="50.0,342.0 73.5,340.9 140.0,341.2 235.0,341.4 329.9,341.4" fill="none" stroke="#ff00ff" stroke-width="1.85" stroke-linejoin="round" stroke-linecap="round"/>
<polyline points="400.1,208.9 408.1,208.9 408.1,350.84999999999997" fill="none" stroke="#000" stroke-width="1.7" stroke-linejoin="round"/>
<line x1="400.1" y1="342.65" x2="690.9" y2="342.65" stroke="#000" stroke-width="1.7"/>
<line x1="408.10" y1="342.65" x2="408.10" y2="350.95" stroke="#000" stroke-width="1.7"/>
<line x1="422.20" y1="342.65" x2="422.20" y2="346.95" stroke="#000" stroke-width="1.7"/>
<line x1="436.30" y1="342.65" x2="436.30" y2="346.95" stroke="#000" stroke-width="1.7"/>
<line x1="450.40" y1="342.65" x2="450.40" y2="346.95" stroke="#000" stroke-width="1.7"/>
<line x1="464.50" y1="342.65" x2="464.50" y2="346.95" stroke="#000" stroke-width="1.7"/>
<line x1="478.60" y1="342.65" x2="478.60" y2="350.95" stroke="#000" stroke-width="1.7"/>
<line x1="492.70" y1="342.65" x2="492.70" y2="346.95" stroke="#000" stroke-width="1.7"/>
<line x1="506.80" y1="342.65" x2="506.80" y2="346.95" stroke="#000" stroke-width="1.7"/>
<line x1="520.90" y1="342.65" x2="520.90" y2="346.95" stroke="#000" stroke-width="1.7"/>
<line x1="535.00" y1="342.65" x2="535.00" y2="346.95" stroke="#000" stroke-width="1.7"/>
<line x1="549.10" y1="342.65" x2="549.10" y2="350.95" stroke="#000" stroke-width="1.7"/>
<line x1="563.20" y1="342.65" x2="563.20" y2="346.95" stroke="#000" stroke-width="1.7"/>
<line x1="577.30" y1="342.65" x2="577.30" y2="346.95" stroke="#000" stroke-width="1.7"/>
<line x1="591.40" y1="342.65" x2="591.40" y2="346.95" stroke="#000" stroke-width="1.7"/>
<line x1="605.50" y1="342.65" x2="605.50" y2="346.95" stroke="#000" stroke-width="1.7"/>
<line x1="619.60" y1="342.65" x2="619.60" y2="350.95" stroke="#000" stroke-width="1.7"/>
<line x1="633.70" y1="342.65" x2="633.70" y2="346.95" stroke="#000" stroke-width="1.7"/>
<line x1="647.80" y1="342.65" x2="647.80" y2="346.95" stroke="#000" stroke-width="1.7"/>
<line x1="661.90" y1="342.65" x2="661.90" y2="346.95" stroke="#000" stroke-width="1.7"/>
<line x1="676.00" y1="342.65" x2="676.00" y2="346.95" stroke="#000" stroke-width="1.7"/>
<line x1="690.10" y1="342.65" x2="690.10" y2="350.95" stroke="#000" stroke-width="1.7"/>
<g transform="translate(408.10,363.75)" fill="none" stroke="#000" stroke-width="1.5" stroke-linecap="butt" stroke-linejoin="round"><g transform="translate(-11.30,-9.95) scale(1.0000,1)"><path transform="translate(0.75,0)" d="M5.10,0 H0 V3.86 H3.30 Q5.10,3.86 5.10,5.66 V7.40 Q5.10,9.20 3.30,9.20 H1.80 Q0,9.20 0,7.58"/><path transform="translate(8.75,0)" d="M0,0 H5.10 V0.92 L1.12,9.20"/><path transform="translate(16.75,0)" d="M0,2.07 Q0,0 2.07,0 H3.03 Q5.10,0 5.10,2.07 V7.13 Q5.10,9.20 3.03,9.20 H2.07 Q0,9.20 0,7.13 Z"/></g></g>
<g transform="translate(478.60,363.75)" fill="none" stroke="#000" stroke-width="1.5" stroke-linecap="butt" stroke-linejoin="round"><g transform="translate(-11.30,-9.95) scale(1.0000,1)"><path transform="translate(0.75,0)" d="M5.10,1.62 Q5.10,0 3.30,0 H1.80 Q0,0 0,1.80 V7.40 Q0,9.20 1.80,9.20 H3.30 Q5.10,9.20 5.10,7.40 V5.94 Q5.10,4.14 3.30,4.14 H0"/><path transform="translate(8.75,0)" d="M0,1.62 Q0,0 1.80,0 H3.30 Q5.10,0 5.10,1.80 V3.86 L0,9.20 H5.10"/><path transform="translate(16.75,0)" d="M0,2.07 Q0,0 2.07,0 H3.03 Q5.10,0 5.10,2.07 V7.13 Q5.10,9.20 3.03,9.20 H2.07 Q0,9.20 0,7.13 Z"/></g></g>
<g transform="translate(549.10,363.75)" fill="none" stroke="#000" stroke-width="1.5" stroke-linecap="butt" stroke-linejoin="round"><g transform="translate(-11.30,-9.95) scale(1.0000,1)"><path transform="translate(0.75,0)" d="M5.10,1.62 Q5.10,0 3.30,0 H1.80 Q0,0 0,1.80 V7.40 Q0,9.20 1.80,9.20 H3.30 Q5.10,9.20 5.10,7.40 V5.94 Q5.10,4.14 3.30,4.14 H0"/><path transform="translate(8.75,0)" d="M0,0 H5.10 V0.92 L1.12,9.20"/><path transform="translate(16.75,0)" d="M0,2.07 Q0,0 2.07,0 H3.03 Q5.10,0 5.10,2.07 V7.13 Q5.10,9.20 3.03,9.20 H2.07 Q0,9.20 0,7.13 Z"/></g></g>
<g transform="translate(619.60,363.75)" fill="none" stroke="#000" stroke-width="1.5" stroke-linecap="butt" stroke-linejoin="round"><g transform="translate(-11.30,-9.95) scale(1.0000,1)"><path transform="translate(0.75,0)" d="M0,0 H5.10 V0.92 L1.12,9.20"/><path transform="translate(8.75,0)" d="M0,1.62 Q0,0 1.80,0 H3.30 Q5.10,0 5.10,1.80 V3.86 L0,9.20 H5.10"/><path transform="translate(16.75,0)" d="M0,2.07 Q0,0 2.07,0 H3.03 Q5.10,0 5.10,2.07 V7.13 Q5.10,9.20 3.03,9.20 H2.07 Q0,9.20 0,7.13 Z"/></g></g>
<g transform="translate(690.10,363.75)" fill="none" stroke="#000" stroke-width="1.5" stroke-linecap="butt" stroke-linejoin="round"><g transform="translate(-11.30,-9.95) scale(1.0000,1)"><path transform="translate(0.75,0)" d="M0,0 H5.10 V0.92 L1.12,9.20"/><path transform="translate(8.75,0)" d="M0,0 H5.10 V0.92 L1.12,9.20"/><path transform="translate(16.75,0)" d="M0,2.07 Q0,0 2.07,0 H3.03 Q5.10,0 5.10,2.07 V7.13 Q5.10,9.20 3.03,9.20 H2.07 Q0,9.20 0,7.13 Z"/></g></g>
<g transform="translate(397.50,208.90) rotate(-90)" fill="none" stroke="#000" stroke-width="1.5" stroke-linecap="butt" stroke-linejoin="round"><g transform="translate(-11.75,-10.35) scale(1.0000,1)"><path transform="translate(0.75,0)" d="M0.17,1.54 L1.65,0 V9.60 M0,9.60 H3.30"/><rect x="5.50" y="8.25" width="2.10" height="2.10" fill="#000" stroke="none"/><path transform="translate(9.05,0)" d="M0,2.30 Q0,0 2.30,0 H3.20 Q5.50,0 5.50,2.30 V7.30 Q5.50,9.60 3.20,9.60 H2.30 Q0,9.60 0,7.30 Z"/><path transform="translate(17.25,0)" d="M0,2.30 Q0,0 2.30,0 H3.20 Q5.50,0 5.50,2.30 V7.30 Q5.50,9.60 3.20,9.60 H2.30 Q0,9.60 0,7.30 Z"/></g></g>
<g transform="translate(397.50,342.65) rotate(-90)" fill="none" stroke="#000" stroke-width="1.5" stroke-linecap="butt" stroke-linejoin="round"><g transform="translate(-17.36,-10.35) scale(1.0000,1)"><path transform="translate(0.75,0)" d="M0,5.28 H6.32"/><path transform="translate(9.77,0)" d="M0,2.30 Q0,0 2.30,0 H3.20 Q5.50,0 5.50,2.30 V7.30 Q5.50,9.60 3.20,9.60 H2.30 Q0,9.60 0,7.30 Z"/><rect x="16.72" y="8.25" width="2.10" height="2.10" fill="#000" stroke="none"/><path transform="translate(20.27,0)" d="M5.50,1.80 Q5.50,0 3.50,0 H2.00 Q0,0 0,2.00 V7.60 Q0,9.60 2.00,9.60 H3.50 Q5.50,9.60 5.50,7.60 V6.32 Q5.50,4.32 3.50,4.32 H0"/><path transform="translate(28.47,0)" d="M5.50,0 H0 V4.03 H3.50 Q5.50,4.03 5.50,6.03 V7.60 Q5.50,9.60 3.50,9.60 H2.00 Q0,9.60 0,7.80"/></g></g>
<g transform="translate(375.00,328.57) rotate(-90)" fill="none" stroke="#000" stroke-width="1.25" stroke-linecap="butt" stroke-linejoin="round"><g transform="translate(0.00,-14.38) scale(1.0000,1)"><path transform="translate(0.62,0)" d="M0,0 H5.25 Q7.85,0 7.85,2.60 V11.15 Q7.85,13.75 5.25,13.75 H0 Z"/><path transform="translate(12.02,0)" d="M0,13.75 V2.60 Q0,0 2.60,0 H5.25 Q7.85,0 7.85,2.60 V13.75 M0,7.56 H7.85"/><path transform="translate(23.43,0)" d="M7.85,2.34 Q7.85,0 5.25,0 H2.60 Q0,0 0,2.60 V4.00 Q0,6.60 2.60,6.60 H5.25 Q7.85,6.60 7.85,9.20 V11.15 Q7.85,13.75 5.25,13.75 H2.60 Q0,13.75 0,11.41"/><path transform="translate(42.92,0)" d="M6.28,13.75 V0 L0,8.53 H7.85 M3.53,13.75 H7.85"/><path transform="translate(54.32,0)" d="M0,2.99 Q0,0 2.99,0 H4.86 Q7.85,0 7.85,2.99 V10.76 Q7.85,13.75 4.86,13.75 H2.99 Q0,13.75 0,10.76 Z"/><path transform="translate(65.72,0)" d="M0,2.99 Q0,0 2.99,0 H4.86 Q7.85,0 7.85,2.99 V10.76 Q7.85,13.75 4.86,13.75 H2.99 Q0,13.75 0,10.76 Z"/></g></g>
<g transform="translate(375.00,251.47) rotate(-90)" fill="none" stroke="#000" stroke-width="1.25" stroke-linecap="butt" stroke-linejoin="round"><g transform="translate(0.00,-8.18) scale(1.0000,1)"><path transform="translate(0.62,0)" d="M0,3.77 H7.80 A3.90,3.77 0 0 0 3.90,0 A3.90,3.77 0 0 0 0,3.77 A3.90,3.77 0 0 0 3.90,7.55 A3.90,3.77 0 0 0 7.41,5.44"/><path transform="translate(10.88,0)" d="M0,0 L7.80,7.55 M7.80,0 L0,7.55"/><path transform="translate(21.12,0)" d="M7.18,1.96 A3.59,3.77 0 1 0 7.18,5.59"/></g></g>
<text transform="translate(362.8,202.5) scale(1.1,1)" class="lt">D</text>
<polyline points="409.3,290.0 415.0,290.7 419.3,290.7 423.5,290.7 425.0,293.5 427.8,295.0 430.7,294.2 433.5,293.5 437.1,293.1 439.2,292.1 441.4,291.7 442.8,292.1 444.9,290.7 447.8,289.7 459.2,289.7 464.9,289.7 467.8,291.4 472.0,294.2 476.3,296.4 480.6,297.8 484.9,298.8 487.7,301.7 490.6,299.2 494.9,297.8 499.2,296.8 500.0,296.2 503.0,299.5 506.2,295.0 510.0,291.2 513.8,286.2 517.5,282.5 521.2,282.0 525.0,281.2 527.5,280.0 530.0,276.2 533.8,277.5 537.5,278.8 541.2,276.2 545.0,275.5 548.8,275.0 552.5,271.2 556.2,263.8 560.0,252.5 563.8,240.0 567.5,220.0 571.2,213.8 574.5,209.5 577.5,217.5 580.5,230.0 583.8,247.5 587.5,265.0 590.0,272.5 592.5,278.8 595.0,281.4 597.9,283.5 600.7,285.4 603.6,282.8 606.4,281.1 609.3,283.5 612.1,287.1 615.0,285.4 618.5,283.1 622.1,282.8 625.7,281.7 629.2,282.8 633.5,283.5 637.1,282.1 640.6,283.1 643.5,283.1 646.4,280.7 650.6,281.7 654.2,280.3 657.8,283.1 660.6,281.4 663.5,284.5 666.3,282.8 669.9,280.3 672.7,280.7 676.3,282.5 680.6,284.0 684.9,283.1 687.7,284.3 690.6,282.8" fill="none" stroke="#000000" stroke-width="1.85" stroke-linejoin="round" stroke-linecap="round"/>
<polyline points="409.3,290.0 412.1,291.1 415.0,290.0 419.3,289.7 425.0,287.1 429.3,286.4 433.5,287.8 437.1,286.8 442.1,287.8 447.8,289.2 454.9,290.0 461.3,290.7 462.8,291.7 464.9,290.0 469.2,287.8 473.5,286.0 477.8,285.0 482.0,284.3 484.9,284.5 487.7,282.8 490.6,285.4 494.9,286.4 497.7,288.5 500.0,289.5 505.0,295.0 510.0,301.2 513.8,306.2 517.5,313.0 521.2,313.8 525.0,312.5 530.0,315.5 535.0,312.0 538.8,309.5 542.5,310.5 547.5,308.8 551.2,309.5 555.0,316.2 560.0,325.0 563.8,332.5 567.5,338.8 571.2,335.0 575.0,327.5 578.8,312.5 582.5,292.5 586.2,282.5 588.8,285.0 592.5,282.5 595.0,285.7 597.9,287.1 601.4,290.7 604.3,295.0 607.1,297.8 610.0,293.5 612.8,291.4 615.7,294.5 620.0,295.7 625.0,295.7 630.0,295.0 634.2,294.0 637.8,295.0 642.1,293.5 645.6,295.0 648.5,295.4 652.1,294.2 654.9,295.7 657.8,294.0 660.6,295.0 663.5,291.7 666.3,294.0 669.9,295.7 673.5,295.0 677.0,293.5 680.6,292.5 684.9,294.2 687.7,293.5 690.6,294.5" fill="none" stroke="#ff0000" stroke-width="1.85" stroke-linejoin="round" stroke-linecap="round"/>
<polyline points="409.3,289.7 413.6,288.8 417.8,287.4 422.1,285.7 426.4,284.3 430.7,283.1 434.2,282.5 437.1,283.5 440.7,283.5 444.9,284.5 449.2,285.7 453.5,286.0 457.8,286.0 462.1,285.0 466.3,284.3 470.6,283.1 476.3,281.7 482.0,281.4 487.7,281.7 492.0,281.1 496.3,281.7 500.0,281.2 505.0,279.5 510.0,277.5 515.0,275.5 518.8,273.8 522.5,274.5 526.2,276.2 530.0,275.5 535.0,277.0 540.0,278.8 545.0,279.5 550.0,280.5 555.0,279.5 560.0,276.2 564.5,272.5 568.0,270.5 571.2,272.5 575.0,276.2 580.0,278.8 585.0,278.8 588.8,277.5 592.5,278.0 595.0,277.8 599.3,279.7 603.6,280.7 606.4,280.7 609.3,283.1 613.5,284.3 619.3,284.5 625.0,285.1 630.7,285.7 637.8,286.2 644.9,286.4 652.1,285.8 659.2,286.4 663.5,287.0 669.2,286.1 674.9,286.4 680.6,286.4 686.3,286.4 690.6,287.0" fill="none" stroke="#0000ff" stroke-width="1.85" stroke-linejoin="round" stroke-linecap="round"/>
<polyline points="409.3,289.7 415.0,288.5 420.7,287.1 426.4,286.0 432.1,285.0 436.4,285.0 440.7,285.7 446.4,286.4 452.1,286.8 457.8,286.8 462.1,287.1 469.2,287.1 476.3,287.1 483.5,287.4 490.6,287.4 497.7,287.4 500.0,288.0 510.0,287.5 520.0,286.2 530.0,287.0 540.0,287.5 550.0,287.0 557.5,285.5 565.0,283.2 570.0,283.0 575.0,284.5 582.5,285.5 592.5,287.0 595.0,286.8 602.1,287.2 609.3,287.4 616.4,287.8 623.5,288.1 637.8,288.2 652.1,288.4 666.3,288.4 690.6,288.4" fill="none" stroke="#00ff00" stroke-width="1.85" stroke-linejoin="round" stroke-linecap="round"/>
<polyline points="409.3,289.4 426.4,289.0 447.8,289.0 500.0,288.9 595.0,289.0 690.6,289.0" fill="none" stroke="#ff00ff" stroke-width="1.85" stroke-linejoin="round" stroke-linecap="round"/>
<line x1="408.1" y1="290.1" x2="690.1" y2="290.1" stroke="#000" stroke-width="1.7"/>
<polyline points="39.9,391.9 47.9,391.9 47.9,533.7" fill="none" stroke="#000" stroke-width="1.7" stroke-linejoin="round"/>
<line x1="39.9" y1="525.5" x2="330.8" y2="525.5" stroke="#000" stroke-width="1.7"/>
<line x1="47.90" y1="525.5" x2="47.90" y2="533.8" stroke="#000" stroke-width="1.7"/>
<line x1="62.00" y1="525.5" x2="62.00" y2="529.8" stroke="#000" stroke-width="1.7"/>
<line x1="76.11" y1="525.5" x2="76.11" y2="529.8" stroke="#000" stroke-width="1.7"/>
<line x1="90.22" y1="525.5" x2="90.22" y2="529.8" stroke="#000" stroke-width="1.7"/>
<line x1="104.32" y1="525.5" x2="104.32" y2="529.8" stroke="#000" stroke-width="1.7"/>
<line x1="118.43" y1="525.5" x2="118.43" y2="533.8" stroke="#000" stroke-width="1.7"/>
<line x1="132.53" y1="525.5" x2="132.53" y2="529.8" stroke="#000" stroke-width="1.7"/>
<line x1="146.64" y1="525.5" x2="146.64" y2="529.8" stroke="#000" stroke-width="1.7"/>
<line x1="160.74" y1="525.5" x2="160.74" y2="529.8" stroke="#000" stroke-width="1.7"/>
<line x1="174.84" y1="525.5" x2="174.84" y2="529.8" stroke="#000" stroke-width="1.7"/>
<line x1="188.95" y1="525.5" x2="188.95" y2="533.8" stroke="#000" stroke-width="1.7"/>
<line x1="203.06" y1="525.5" x2="203.06" y2="529.8" stroke="#000" stroke-width="1.7"/>
<line x1="217.16" y1="525.5" x2="217.16" y2="529.8" stroke="#000" stroke-width="1.7"/>
<line x1="231.27" y1="525.5" x2="231.27" y2="529.8" stroke="#000" stroke-width="1.7"/>
<line x1="245.37" y1="525.5" x2="245.37" y2="529.8" stroke="#000" stroke-width="1.7"/>
<line x1="259.47" y1="525.5" x2="259.47" y2="533.8" stroke="#000" stroke-width="1.7"/>
<line x1="273.58" y1="525.5" x2="273.58" y2="529.8" stroke="#000" stroke-width="1.7"/>
<line x1="287.69" y1="525.5" x2="287.69" y2="529.8" stroke="#000" stroke-width="1.7"/>
<line x1="301.79" y1="525.5" x2="301.79" y2="529.8" stroke="#000" stroke-width="1.7"/>
<line x1="315.89" y1="525.5" x2="315.89" y2="529.8" stroke="#000" stroke-width="1.7"/>
<line x1="330.00" y1="525.5" x2="330.00" y2="533.8" stroke="#000" stroke-width="1.7"/>
<g transform="translate(47.90,546.60)" fill="none" stroke="#000" stroke-width="1.5" stroke-linecap="butt" stroke-linejoin="round"><g transform="translate(-11.30,-9.95) scale(1.0000,1)"><path transform="translate(0.75,0)" d="M5.10,0 H0 V3.86 H3.30 Q5.10,3.86 5.10,5.66 V7.40 Q5.10,9.20 3.30,9.20 H1.80 Q0,9.20 0,7.58"/><path transform="translate(8.75,0)" d="M0,0 H5.10 V0.92 L1.12,9.20"/><path transform="translate(16.75,0)" d="M0,2.07 Q0,0 2.07,0 H3.03 Q5.10,0 5.10,2.07 V7.13 Q5.10,9.20 3.03,9.20 H2.07 Q0,9.20 0,7.13 Z"/></g></g>
<g transform="translate(118.43,546.60)" fill="none" stroke="#000" stroke-width="1.5" stroke-linecap="butt" stroke-linejoin="round"><g transform="translate(-11.30,-9.95) scale(1.0000,1)"><path transform="translate(0.75,0)" d="M5.10,1.62 Q5.10,0 3.30,0 H1.80 Q0,0 0,1.80 V7.40 Q0,9.20 1.80,9.20 H3.30 Q5.10,9.20 5.10,7.40 V5.94 Q5.10,4.14 3.30,4.14 H0"/><path transform="translate(8.75,0)" d="M0,1.62 Q0,0 1.80,0 H3.30 Q5.10,0 5.10,1.80 V3.86 L0,9.20 H5.10"/><path transform="translate(16.75,0)" d="M0,2.07 Q0,0 2.07,0 H3.03 Q5.10,0 5.10,2.07 V7.13 Q5.10,9.20 3.03,9.20 H2.07 Q0,9.20 0,7.13 Z"/></g></g>
<g transform="translate(188.95,546.60)" fill="none" stroke="#000" stroke-width="1.5" stroke-linecap="butt" stroke-linejoin="round"><g transform="translate(-11.30,-9.95) scale(1.0000,1)"><path transform="translate(0.75,0)" d="M5.10,1.62 Q5.10,0 3.30,0 H1.80 Q0,0 0,1.80 V7.40 Q0,9.20 1.80,9.20 H3.30 Q5.10,9.20 5.10,7.40 V5.94 Q5.10,4.14 3.30,4.14 H0"/><path transform="translate(8.75,0)" d="M0,0 H5.10 V0.92 L1.12,9.20"/><path transform="translate(16.75,0)" d="M0,2.07 Q0,0 2.07,0 H3.03 Q5.10,0 5.10,2.07 V7.13 Q5.10,9.20 3.03,9.20 H2.07 Q0,9.20 0,7.13 Z"/></g></g>
<g transform="translate(259.48,546.60)" fill="none" stroke="#000" stroke-width="1.5" stroke-linecap="butt" stroke-linejoin="round"><g transform="translate(-11.30,-9.95) scale(1.0000,1)"><path transform="translate(0.75,0)" d="M0,0 H5.10 V0.92 L1.12,9.20"/><path transform="translate(8.75,0)" d="M0,1.62 Q0,0 1.80,0 H3.30 Q5.10,0 5.10,1.80 V3.86 L0,9.20 H5.10"/><path transform="translate(16.75,0)" d="M0,2.07 Q0,0 2.07,0 H3.03 Q5.10,0 5.10,2.07 V7.13 Q5.10,9.20 3.03,9.20 H2.07 Q0,9.20 0,7.13 Z"/></g></g>
<g transform="translate(330.00,546.60)" fill="none" stroke="#000" stroke-width="1.5" stroke-linecap="butt" stroke-linejoin="round"><g transform="translate(-11.30,-9.95) scale(1.0000,1)"><path transform="translate(0.75,0)" d="M0,0 H5.10 V0.92 L1.12,9.20"/><path transform="translate(8.75,0)" d="M0,0 H5.10 V0.92 L1.12,9.20"/><path transform="translate(16.75,0)" d="M0,2.07 Q0,0 2.07,0 H3.03 Q5.10,0 5.10,2.07 V7.13 Q5.10,9.20 3.03,9.20 H2.07 Q0,9.20 0,7.13 Z"/></g></g>
<g transform="translate(37.30,391.90) rotate(-90)" fill="none" stroke="#000" stroke-width="1.5" stroke-linecap="butt" stroke-linejoin="round"><g transform="translate(-2.40,-10.35) scale(1.0000,1)"><path transform="translate(0.75,0)" d="M0.17,1.54 L1.65,0 V9.60 M0,9.60 H3.30"/></g></g>
<g transform="translate(37.30,525.50) rotate(-90)" fill="none" stroke="#000" stroke-width="1.5" stroke-linecap="butt" stroke-linejoin="round"><g transform="translate(-3.50,-10.35) scale(1.0000,1)"><path transform="translate(0.75,0)" d="M0,2.30 Q0,0 2.30,0 H3.20 Q5.50,0 5.50,2.30 V7.30 Q5.50,9.60 3.20,9.60 H2.30 Q0,9.60 0,7.30 Z"/></g></g>
<g transform="translate(14.80,511.50) rotate(-90)" fill="none" stroke="#000" stroke-width="1.25" stroke-linecap="butt" stroke-linejoin="round"><g transform="translate(0.00,-14.38) scale(1.0000,1)"><path transform="translate(0.62,0)" d="M7.85,0 H0 V13.75 H7.85 M0,6.60 H7.06"/><path transform="translate(12.02,0)" d="M0,13.75 V2.60 Q0,0 2.60,0 H5.25 Q7.85,0 7.85,2.60 V13.75 M0,7.56 H7.85"/><path transform="translate(23.43,0)" d="M7.85,2.34 Q7.85,0 5.25,0 H2.60 Q0,0 0,2.60 V4.00 Q0,6.60 2.60,6.60 H5.25 Q7.85,6.60 7.85,9.20 V11.15 Q7.85,13.75 5.25,13.75 H2.60 Q0,13.75 0,11.41"/><path transform="translate(42.92,0)" d="M6.28,13.75 V0 L0,8.53 H7.85 M3.53,13.75 H7.85"/><path transform="translate(54.32,0)" d="M0,2.99 Q0,0 2.99,0 H4.86 Q7.85,0 7.85,2.99 V10.76 Q7.85,13.75 4.86,13.75 H2.99 Q0,13.75 0,10.76 Z"/><path transform="translate(65.72,0)" d="M0,2.99 Q0,0 2.99,0 H4.86 Q7.85,0 7.85,2.99 V10.76 Q7.85,13.75 4.86,13.75 H2.99 Q0,13.75 0,10.76 Z"/></g></g>
<g transform="translate(14.80,434.40) rotate(-90)" fill="none" stroke="#000" stroke-width="1.25" stroke-linecap="butt" stroke-linejoin="round"><g transform="translate(0.00,-8.18) scale(1.0000,1)"><path transform="translate(0.62,0)" d="M0,3.77 H7.80 A3.90,3.77 0 0 0 3.90,0 A3.90,3.77 0 0 0 0,3.77 A3.90,3.77 0 0 0 3.90,7.55 A3.90,3.77 0 0 0 7.41,5.44"/><path transform="translate(10.88,0)" d="M0,0 L7.80,7.55 M7.80,0 L0,7.55"/><path transform="translate(21.12,0)" d="M7.18,1.96 A3.59,3.77 0 1 0 7.18,5.59"/></g></g>
<text transform="translate(2.6000000000000014,389) scale(1.1,1)" class="lt">E</text>
<polyline points="97.5,525.8 140.0,525.8 150.0,525.5 160.0,525.0 170.0,524.2 177.5,522.8 182.5,520.0 186.2,516.2 190.0,510.0 193.8,501.2 197.5,485.0 201.2,462.5 205.0,437.5 208.8,417.5 212.0,400.0 214.5,392.0 217.5,395.0 220.0,407.5 222.5,425.0 225.0,442.5 227.5,457.5 230.0,467.5 232.5,477.5 235.0,479.6 237.3,488.1 240.4,495.1 244.3,501.3 249.0,507.1 250.5,508.3 255.2,508.3 259.1,508.0 261.4,509.1 264.5,508.0 267.6,510.2 272.3,511.7 276.9,512.2 280.0,510.7 284.7,511.1 289.3,510.2 294.0,509.6 297.1,510.7 300.2,512.2 304.1,511.7 307.2,511.7 311.1,514.5 315.7,516.9 322.0,519.2 329.7,520.7" fill="none" stroke="#000000" stroke-width="1.85" stroke-linejoin="round" stroke-linecap="round"/>
<polyline points="97.5,525.8 140.0,525.8 150.0,525.5 160.0,525.2 170.0,524.8 180.0,523.8 187.5,522.0 192.5,517.5 196.2,511.2 200.0,500.0 203.8,482.5 207.5,470.0 211.2,463.8 214.5,462.5 217.5,457.5 221.2,451.2 225.5,447.0 228.8,453.8 232.5,461.2 235.0,465.6 237.3,474.2 240.4,483.5 243.5,491.2 246.6,496.7 250.5,501.3 254.4,505.2 258.3,508.3 262.2,510.7 266.1,511.7 270.7,511.7 275.4,511.4 279.3,512.7 283.1,511.4 287.8,511.7 291.7,512.2 295.6,510.7 300.2,511.7 304.9,511.4 308.8,512.2 312.6,511.1 317.3,513.0 322.0,514.5 326.6,516.1 329.7,515.8" fill="none" stroke="#ff0000" stroke-width="1.85" stroke-linejoin="round" stroke-linecap="round"/>
<polyline points="97.5,525.8 140.0,525.8 160.0,525.5 175.0,525.0 185.0,523.2 192.5,520.0 197.5,515.0 202.5,501.2 205.5,493.8 208.8,488.0 212.5,491.2 216.2,498.8 220.0,504.5 223.8,507.5 227.5,507.0 232.5,505.8 235.0,505.2 239.7,506.5 244.3,509.1 250.5,511.7 256.7,514.2 263.0,516.1 269.2,517.3 275.4,518.4 281.6,517.6 287.8,518.0 294.0,518.4 300.2,519.5 306.4,520.0 312.6,520.7 320.4,521.1 329.7,521.1" fill="none" stroke="#0000ff" stroke-width="1.85" stroke-linejoin="round" stroke-linecap="round"/>
<polyline points="97.5,525.8 140.0,525.8 165.0,525.5 180.0,525.2 190.0,523.8 196.2,520.0 201.2,514.5 205.5,508.8 209.5,505.8 213.0,506.2 216.2,510.0 220.0,513.8 225.0,517.0 230.0,518.0 235.0,519.5 241.2,520.4 250.5,521.1 258.3,521.5 266.1,522.0 275.4,522.0 284.7,521.7 294.0,521.5 304.9,522.3 315.7,523.1 329.7,523.9" fill="none" stroke="#00ff00" stroke-width="1.85" stroke-linejoin="round" stroke-linecap="round"/>
<line x1="47.9" y1="525.5" x2="330.8" y2="525.5" stroke="#000" stroke-width="1.7"/>
<polyline points="400.1,391.9 408.1,391.9 408.1,533.7" fill="none" stroke="#000" stroke-width="1.7" stroke-linejoin="round"/>
<line x1="400.1" y1="525.5" x2="690.9" y2="525.5" stroke="#000" stroke-width="1.7"/>
<line x1="408.10" y1="525.5" x2="408.10" y2="533.8" stroke="#000" stroke-width="1.7"/>
<line x1="422.20" y1="525.5" x2="422.20" y2="529.8" stroke="#000" stroke-width="1.7"/>
<line x1="436.30" y1="525.5" x2="436.30" y2="529.8" stroke="#000" stroke-width="1.7"/>
<line x1="450.40" y1="525.5" x2="450.40" y2="529.8" stroke="#000" stroke-width="1.7"/>
<line x1="464.50" y1="525.5" x2="464.50" y2="529.8" stroke="#000" stroke-width="1.7"/>
<line x1="478.60" y1="525.5" x2="478.60" y2="533.8" stroke="#000" stroke-width="1.7"/>
<line x1="492.70" y1="525.5" x2="492.70" y2="529.8" stroke="#000" stroke-width="1.7"/>
<line x1="506.80" y1="525.5" x2="506.80" y2="529.8" stroke="#000" stroke-width="1.7"/>
<line x1="520.90" y1="525.5" x2="520.90" y2="529.8" stroke="#000" stroke-width="1.7"/>
<line x1="535.00" y1="525.5" x2="535.00" y2="529.8" stroke="#000" stroke-width="1.7"/>
<line x1="549.10" y1="525.5" x2="549.10" y2="533.8" stroke="#000" stroke-width="1.7"/>
<line x1="563.20" y1="525.5" x2="563.20" y2="529.8" stroke="#000" stroke-width="1.7"/>
<line x1="577.30" y1="525.5" x2="577.30" y2="529.8" stroke="#000" stroke-width="1.7"/>
<line x1="591.40" y1="525.5" x2="591.40" y2="529.8" stroke="#000" stroke-width="1.7"/>
<line x1="605.50" y1="525.5" x2="605.50" y2="529.8" stroke="#000" stroke-width="1.7"/>
<line x1="619.60" y1="525.5" x2="619.60" y2="533.8" stroke="#000" stroke-width="1.7"/>
<line x1="633.70" y1="525.5" x2="633.70" y2="529.8" stroke="#000" stroke-width="1.7"/>
<line x1="647.80" y1="525.5" x2="647.80" y2="529.8" stroke="#000" stroke-width="1.7"/>
<line x1="661.90" y1="525.5" x2="661.90" y2="529.8" stroke="#000" stroke-width="1.7"/>
<line x1="676.00" y1="525.5" x2="676.00" y2="529.8" stroke="#000" stroke-width="1.7"/>
<line x1="690.10" y1="525.5" x2="690.10" y2="533.8" stroke="#000" stroke-width="1.7"/>
<g transform="translate(408.10,546.60)" fill="none" stroke="#000" stroke-width="1.5" stroke-linecap="butt" stroke-linejoin="round"><g transform="translate(-11.30,-9.95) scale(1.0000,1)"><path transform="translate(0.75,0)" d="M5.10,0 H0 V3.86 H3.30 Q5.10,3.86 5.10,5.66 V7.40 Q5.10,9.20 3.30,9.20 H1.80 Q0,9.20 0,7.58"/><path transform="translate(8.75,0)" d="M0,0 H5.10 V0.92 L1.12,9.20"/><path transform="translate(16.75,0)" d="M0,2.07 Q0,0 2.07,0 H3.03 Q5.10,0 5.10,2.07 V7.13 Q5.10,9.20 3.03,9.20 H2.07 Q0,9.20 0,7.13 Z"/></g></g>
<g transform="translate(478.60,546.60)" fill="none" stroke="#000" stroke-width="1.5" stroke-linecap="butt" stroke-linejoin="round"><g transform="translate(-11.30,-9.95) scale(1.0000,1)"><path transform="translate(0.75,0)" d="M5.10,1.62 Q5.10,0 3.30,0 H1.80 Q0,0 0,1.80 V7.40 Q0,9.20 1.80,9.20 H3.30 Q5.10,9.20 5.10,7.40 V5.94 Q5.10,4.14 3.30,4.14 H0"/><path transform="translate(8.75,0)" d="M0,1.62 Q0,0 1.80,0 H3.30 Q5.10,0 5.10,1.80 V3.86 L0,9.20 H5.10"/><path transform="translate(16.75,0)" d="M0,2.07 Q0,0 2.07,0 H3.03 Q5.10,0 5.10,2.07 V7.13 Q5.10,9.20 3.03,9.20 H2.07 Q0,9.20 0,7.13 Z"/></g></g>
<g transform="translate(549.10,546.60)" fill="none" stroke="#000" stroke-width="1.5" stroke-linecap="butt" stroke-linejoin="round"><g transform="translate(-11.30,-9.95) scale(1.0000,1)"><path transform="translate(0.75,0)" d="M5.10,1.62 Q5.10,0 3.30,0 H1.80 Q0,0 0,1.80 V7.40 Q0,9.20 1.80,9.20 H3.30 Q5.10,9.20 5.10,7.40 V5.94 Q5.10,4.14 3.30,4.14 H0"/><path transform="translate(8.75,0)" d="M0,0 H5.10 V0.92 L1.12,9.20"/><path transform="translate(16.75,0)" d="M0,2.07 Q0,0 2.07,0 H3.03 Q5.10,0 5.10,2.07 V7.13 Q5.10,9.20 3.03,9.20 H2.07 Q0,9.20 0,7.13 Z"/></g></g>
<g transform="translate(619.60,546.60)" fill="none" stroke="#000" stroke-width="1.5" stroke-linecap="butt" stroke-linejoin="round"><g transform="translate(-11.30,-9.95) scale(1.0000,1)"><path transform="translate(0.75,0)" d="M0,0 H5.10 V0.92 L1.12,9.20"/><path transform="translate(8.75,0)" d="M0,1.62 Q0,0 1.80,0 H3.30 Q5.10,0 5.10,1.80 V3.86 L0,9.20 H5.10"/><path transform="translate(16.75,0)" d="M0,2.07 Q0,0 2.07,0 H3.03 Q5.10,0 5.10,2.07 V7.13 Q5.10,9.20 3.03,9.20 H2.07 Q0,9.20 0,7.13 Z"/></g></g>
<g transform="translate(690.10,546.60)" fill="none" stroke="#000" stroke-width="1.5" stroke-linecap="butt" stroke-linejoin="round"><g transform="translate(-11.30,-9.95) scale(1.0000,1)"><path transform="translate(0.75,0)" d="M0,0 H5.10 V0.92 L1.12,9.20"/><path transform="translate(8.75,0)" d="M0,0 H5.10 V0.92 L1.12,9.20"/><path transform="translate(16.75,0)" d="M0,2.07 Q0,0 2.07,0 H3.03 Q5.10,0 5.10,2.07 V7.13 Q5.10,9.20 3.03,9.20 H2.07 Q0,9.20 0,7.13 Z"/></g></g>
<g transform="translate(397.50,391.90) rotate(-90)" fill="none" stroke="#000" stroke-width="1.5" stroke-linecap="butt" stroke-linejoin="round"><g transform="translate(-7.65,-10.35) scale(1.0000,1)"><path transform="translate(0.75,0)" d="M0.17,1.54 L1.65,0 V9.60 M0,9.60 H3.30"/><rect x="5.50" y="8.25" width="2.10" height="2.10" fill="#000" stroke="none"/><path transform="translate(9.05,0)" d="M0,2.30 Q0,0 2.30,0 H3.20 Q5.50,0 5.50,2.30 V7.30 Q5.50,9.60 3.20,9.60 H2.30 Q0,9.60 0,7.30 Z"/></g></g>
<g transform="translate(397.50,525.50) rotate(-90)" fill="none" stroke="#000" stroke-width="1.5" stroke-linecap="butt" stroke-linejoin="round"><g transform="translate(-13.26,-10.35) scale(1.0000,1)"><path transform="translate(0.75,0)" d="M0,5.28 H6.32"/><path transform="translate(9.77,0)" d="M0,2.30 Q0,0 2.30,0 H3.20 Q5.50,0 5.50,2.30 V7.30 Q5.50,9.60 3.20,9.60 H2.30 Q0,9.60 0,7.30 Z"/><rect x="16.72" y="8.25" width="2.10" height="2.10" fill="#000" stroke="none"/><path transform="translate(20.27,0)" d="M5.50,1.80 Q5.50,0 3.50,0 H2.00 Q0,0 0,2.00 V7.60 Q0,9.60 2.00,9.60 H3.50 Q5.50,9.60 5.50,7.60 V6.32 Q5.50,4.32 3.50,4.32 H0"/></g></g>
<g transform="translate(375.00,511.50) rotate(-90)" fill="none" stroke="#000" stroke-width="1.25" stroke-linecap="butt" stroke-linejoin="round"><g transform="translate(0.00,-14.38) scale(1.0000,1)"><path transform="translate(0.62,0)" d="M0,0 H5.25 Q7.85,0 7.85,2.60 V11.15 Q7.85,13.75 5.25,13.75 H0 Z"/><path transform="translate(12.02,0)" d="M0,13.75 V2.60 Q0,0 2.60,0 H5.25 Q7.85,0 7.85,2.60 V13.75 M0,7.56 H7.85"/><path transform="translate(23.43,0)" d="M7.85,2.34 Q7.85,0 5.25,0 H2.60 Q0,0 0,2.60 V4.00 Q0,6.60 2.60,6.60 H5.25 Q7.85,6.60 7.85,9.20 V11.15 Q7.85,13.75 5.25,13.75 H2.60 Q0,13.75 0,11.41"/><path transform="translate(42.92,0)" d="M6.28,13.75 V0 L0,8.53 H7.85 M3.53,13.75 H7.85"/><path transform="translate(54.32,0)" d="M0,2.99 Q0,0 2.99,0 H4.86 Q7.85,0 7.85,2.99 V10.76 Q7.85,13.75 4.86,13.75 H2.99 Q0,13.75 0,10.76 Z"/><path transform="translate(65.72,0)" d="M0,2.99 Q0,0 2.99,0 H4.86 Q7.85,0 7.85,2.99 V10.76 Q7.85,13.75 4.86,13.75 H2.99 Q0,13.75 0,10.76 Z"/></g></g>
<g transform="translate(375.00,434.40) rotate(-90)" fill="none" stroke="#000" stroke-width="1.25" stroke-linecap="butt" stroke-linejoin="round"><g transform="translate(0.00,-8.18) scale(1.0000,1)"><path transform="translate(0.62,0)" d="M0,3.77 H7.80 A3.90,3.77 0 0 0 3.90,0 A3.90,3.77 0 0 0 0,3.77 A3.90,3.77 0 0 0 3.90,7.55 A3.90,3.77 0 0 0 7.41,5.44"/><path transform="translate(10.88,0)" d="M0,0 L7.80,7.55 M7.80,0 L0,7.55"/><path transform="translate(21.12,0)" d="M7.18,1.96 A3.59,3.77 0 1 0 7.18,5.59"/></g></g>
<text transform="translate(362.8,389) scale(1.1,1)" class="lt">F</text>
<polyline points="457.5,476.0 470.0,476.2 480.0,476.5 490.0,476.0 500.0,475.5 510.0,476.2 520.0,475.5 530.0,474.3 540.4,473.6 544.0,473.0 547.6,467.6 550.7,462.4 555.9,456.2 558.5,450.0 560.0,444.3 562.6,446.4 565.2,439.7 568.3,432.9 571.9,427.2 574.5,421.0 576.2,427.5 578.8,445.0 581.2,465.0 583.8,485.0 586.2,502.5 588.8,501.2 591.2,503.8 595.0,506.3 597.9,504.2 600.7,499.9 603.6,494.9 606.4,489.9 609.3,489.2 612.1,486.4 615.0,482.1 617.8,478.5 620.7,476.4 623.5,475.0 625.7,474.0 629.2,476.4 633.5,477.1 637.1,479.9 639.9,474.5 642.8,477.4 646.4,476.4 650.6,475.7 653.5,475.7 657.8,478.5 662.0,480.2 665.6,477.8 669.2,480.7 672.7,484.2 676.3,483.1 680.6,482.8 684.2,481.7 687.7,482.1 690.6,483.5" fill="none" stroke="#000000" stroke-width="1.85" stroke-linejoin="round" stroke-linecap="round"/>
<polyline points="457.5,475.5 462.5,476.0 467.5,475.5 500.0,475.5 510.0,474.5 520.0,474.5 530.0,474.3 538.3,473.6 544.5,474.0 548.6,475.9 552.8,474.9 555.9,470.7 560.0,467.6 562.1,459.9 566.2,455.7 569.3,450.0 571.4,441.7 574.5,433.5 577.1,423.1 578.7,419.0 578.8,412.5 581.2,401.2 583.8,393.8 587.0,391.2 589.5,405.0 593.0,415.0 596.2,427.5 599.3,440.0 601.4,445.7 603.6,451.4 606.4,457.1 609.3,460.7 613.5,464.3 617.8,467.4 622.1,469.7 626.4,470.7 630.7,470.0 634.2,468.5 637.1,466.4 639.2,470.0 642.8,468.2 646.4,469.2 650.6,469.2 654.9,467.1 657.8,466.0 660.6,466.8 663.5,465.0 666.3,466.4 669.2,464.5 672.7,462.8 676.3,465.0 680.6,466.0 684.9,467.8 687.7,468.2 690.6,467.1" fill="none" stroke="#ff0000" stroke-width="1.85" stroke-linejoin="round" stroke-linecap="round"/>
<polyline points="457.5,475.5 500.0,475.5 525.0,474.5 530.0,474.3 545.5,474.0 550.7,473.3 555.9,470.7 560.0,465.5 563.1,458.3 566.2,454.7 568.8,453.1 571.4,457.3 575.5,461.9 580.0,465.0 585.0,463.8 590.0,459.5 595.0,456.8 600.7,457.8 605.0,460.0 609.3,462.1 615.0,464.3 619.3,466.4 623.5,467.4 627.8,469.2 632.1,470.0 636.4,470.2 640.6,470.0 646.4,469.7 652.1,470.2 659.2,470.7 666.3,471.7 673.5,472.8 680.6,472.5 690.6,472.5" fill="none" stroke="#0000ff" stroke-width="1.85" stroke-linejoin="round" stroke-linecap="round"/>
<polyline points="457.5,475.5 500.0,475.5 525.0,474.5 530.0,474.3 540.4,474.0 546.6,473.3 552.8,471.2 556.9,469.2 561.1,464.5 564.2,458.8 567.3,454.7 570.9,453.3 574.5,454.7 577.6,458.3 580.0,461.4 585.0,465.0 590.0,467.5 595.0,469.7 603.6,470.2 612.1,471.1 620.7,471.4 629.2,471.7 637.8,471.7 644.9,471.1 652.1,470.7 659.2,471.4 666.3,472.1 673.5,472.8 680.6,473.1 690.6,473.5" fill="none" stroke="#00ff00" stroke-width="1.85" stroke-linejoin="round" stroke-linecap="round"/>
<line x1="408.1" y1="475.3" x2="690.1" y2="475.3" stroke="#000" stroke-width="1.7"/>
<g transform="translate(0,559.83)" fill="none" stroke="#000" stroke-width="1.45" stroke-linejoin="round"><path transform="translate(112.42,0)" d="M0,0 V13.00 L3.97,4.94 L7.95,13.00 V0"/><path transform="translate(124.12,0)" d="M8.05,13.00 V7.60 Q8.05,5.20 5.65,5.20 H2.40 Q0,5.20 0,7.60 V10.60 Q0,13.00 2.40,13.00 H8.05"/><path transform="translate(135.82,0)" d="M0,5.20 L3.73,13.00 L7.45,5.20"/><path transform="translate(146.12,0)" d="M0,8.87 H7.75 V7.60 Q7.75,5.20 5.35,5.20 H2.40 Q0,5.20 0,7.60 V10.60 Q0,13.00 2.40,13.00 H5.35 Q7.75,13.00 7.75,11.80"/><path transform="translate(158.12,0)" d="M0,0 V10.60 Q0,13.00 2.40,13.00 H6.05"/><path transform="translate(167.82,0)" d="M0,8.87 H7.75 V7.60 Q7.75,5.20 5.35,5.20 H2.40 Q0,5.20 0,7.60 V10.60 Q0,13.00 2.40,13.00 H5.35 Q7.75,13.00 7.75,11.80"/><path transform="translate(179.32,0)" d="M0,5.20 V13.00 M0,7.60 Q0,5.20 2.40,5.20 H5.55 Q7.95,5.20 7.95,7.60 V13.00"/><path transform="translate(191.03,0)" d="M6.85,5.20 V15.50 Q6.85,17.90 4.45,17.90 H2.40 Q0,17.90 0,16.22 M6.85,7.60 Q6.85,5.20 4.45,5.20 H2.40 Q0,5.20 0,7.60 V10.60 Q0,13.00 2.40,13.00 H6.85"/><path transform="translate(202.42,0)" d="M1.65,1.5 V10.60 Q1.65,13.00 4.05,13.00 H7.75 M0,5.20 H4.55"/><path transform="translate(214.72,0)" d="M0,0 V13.00 M0,7.60 Q0,5.20 2.40,5.20 H4.45 Q6.85,5.20 6.85,7.60 V13.00"/><path transform="translate(234.12,0)" d="M2.05,1.2 H1.3 Q0,1.2 0,2.6 V11.1 Q0,12.5 1.3,12.5 H2.05"/><path transform="translate(240.12,0)" d="M0,5.20 V13.00 M0,7.60 Q0,5.20 2.40,5.20 H4.75 Q7.15,5.20 7.15,7.60 V13.00"/><path transform="translate(251.82,0)" d="M0,5.20 V13.00 M0,6.80 Q0,5.20 1.60,5.20 H1.97 Q3.57,5.20 3.57,6.80 V13.00 M3.57,6.80 Q3.57,5.20 5.17,5.20 H5.55 Q7.15,5.20 7.15,6.80 V13.00"/><path transform="translate(263.03,0)" d="M0,1.2 H0.95 Q2.25,1.2 2.25,2.6 V11.1 Q2.25,12.5 0.95,12.5 H0"/></g>
<g transform="translate(0,559.83)" fill="none" stroke="#000" stroke-width="1.45" stroke-linejoin="round"><path transform="translate(472.43,0)" d="M0,0 V13.00 L3.97,4.94 L7.95,13.00 V0"/><path transform="translate(484.12,0)" d="M8.05,13.00 V7.60 Q8.05,5.20 5.65,5.20 H2.40 Q0,5.20 0,7.60 V10.60 Q0,13.00 2.40,13.00 H8.05"/><path transform="translate(495.82,0)" d="M0,5.20 L3.73,13.00 L7.45,5.20"/><path transform="translate(506.12,0)" d="M0,8.87 H7.75 V7.60 Q7.75,5.20 5.35,5.20 H2.40 Q0,5.20 0,7.60 V10.60 Q0,13.00 2.40,13.00 H5.35 Q7.75,13.00 7.75,11.80"/><path transform="translate(518.12,0)" d="M0,0 V10.60 Q0,13.00 2.40,13.00 H6.05"/><path transform="translate(527.83,0)" d="M0,8.87 H7.75 V7.60 Q7.75,5.20 5.35,5.20 H2.40 Q0,5.20 0,7.60 V10.60 Q0,13.00 2.40,13.00 H5.35 Q7.75,13.00 7.75,11.80"/><path transform="translate(539.33,0)" d="M0,5.20 V13.00 M0,7.60 Q0,5.20 2.40,5.20 H5.55 Q7.95,5.20 7.95,7.60 V13.00"/><path transform="translate(551.02,0)" d="M6.85,5.20 V15.50 Q6.85,17.90 4.45,17.90 H2.40 Q0,17.90 0,16.22 M6.85,7.60 Q6.85,5.20 4.45,5.20 H2.40 Q0,5.20 0,7.60 V10.60 Q0,13.00 2.40,13.00 H6.85"/><path transform="translate(562.42,0)" d="M1.65,1.5 V10.60 Q1.65,13.00 4.05,13.00 H7.75 M0,5.20 H4.55"/><path transform="translate(574.73,0)" d="M0,0 V13.00 M0,7.60 Q0,5.20 2.40,5.20 H4.45 Q6.85,5.20 6.85,7.60 V13.00"/><path transform="translate(594.12,0)" d="M2.05,1.2 H1.3 Q0,1.2 0,2.6 V11.1 Q0,12.5 1.3,12.5 H2.05"/><path transform="translate(600.12,0)" d="M0,5.20 V13.00 M0,7.60 Q0,5.20 2.40,5.20 H4.75 Q7.15,5.20 7.15,7.60 V13.00"/><path transform="translate(611.83,0)" d="M0,5.20 V13.00 M0,6.80 Q0,5.20 1.60,5.20 H1.97 Q3.57,5.20 3.57,6.80 V13.00 M3.57,6.80 Q3.57,5.20 5.17,5.20 H5.55 Q7.15,5.20 7.15,6.80 V13.00"/><path transform="translate(623.03,0)" d="M0,1.2 H0.95 Q2.25,1.2 2.25,2.6 V11.1 Q2.25,12.5 0.95,12.5 H0"/></g>
</svg>
</body></html>
